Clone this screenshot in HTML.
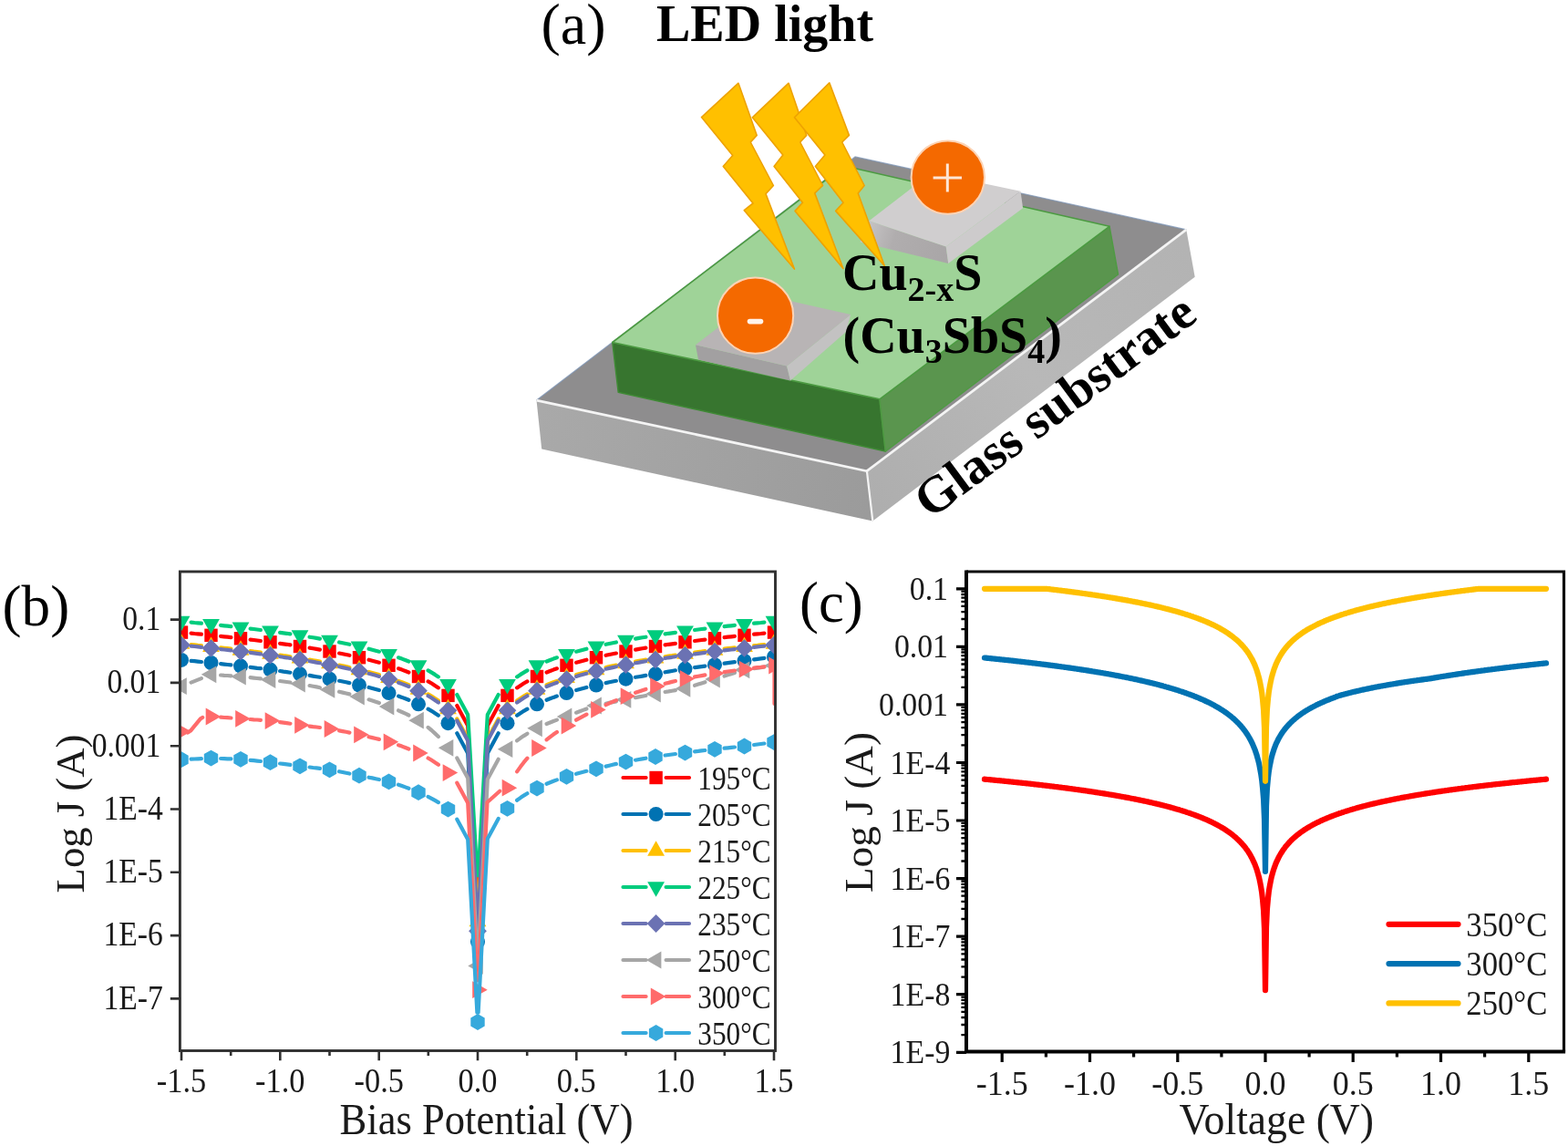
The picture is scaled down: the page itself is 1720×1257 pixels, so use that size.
<!DOCTYPE html>
<html lang="en">
<head>
<meta charset="utf-8">
<title>Figure: LED-illuminated Cu2-xS (Cu3SbS4) device and log J curves</title>
<style>
html,body{margin:0;padding:0;background:#fff;}
body{width:1720px;height:1257px;overflow:hidden;font-family:"Liberation Serif", "DejaVu Serif", serif;}
svg{display:block;}
</style>
</head>
<body>
<svg width="1720" height="1257" viewBox="0 0 1720 1257" role="img" aria-label="Device schematic and log J versus voltage plots">
<defs>
<linearGradient id="gSubL" gradientUnits="userSpaceOnUse" x1="590" y1="465" x2="955" y2="545"><stop offset="0" stop-color="#a9a9a9"/><stop offset="1" stop-color="#9b9b9b"/></linearGradient>
<linearGradient id="gSubR" gradientUnits="userSpaceOnUse" x1="955" y1="545" x2="1306" y2="277"><stop offset="0" stop-color="#aeaeae"/><stop offset="0.5" stop-color="#b8b8b8"/><stop offset="1" stop-color="#b3b3b3"/></linearGradient>
<linearGradient id="gElL" gradientUnits="userSpaceOnUse" x1="950" y1="250" x2="1040" y2="280"><stop offset="0" stop-color="#c6c4c5"/><stop offset="0.35" stop-color="#b0adae"/><stop offset="1" stop-color="#a9a6a7"/></linearGradient>
</defs>
<rect width="1720" height="1257" fill="#fff"/>
<g id="panel-a">
<polygon points="588.5,439.1 938.1,171.9 1301.3,251.9 950.9,516.7" fill="#8e8d8e" />
<polygon points="588.5,439.1 950.9,516.7 957.3,571.5 594.2,492.6" fill="url(#gSubL)" />
<polygon points="950.9,516.7 1301.3,251.9 1310.7,303.7 957.3,571.5" fill="url(#gSubR)" />
<polyline points="588.5,439.1 938.1,171.9 1301.3,251.9" fill="none" stroke="#7b93b4" stroke-width="1.3" opacity="0.75"/>
<polyline points="588.5,439.1 950.9,516.7 1301.3,251.9" fill="none" stroke="#f4f4f4" stroke-width="2.7" stroke-linejoin="round"/>
<line x1="950.9" y1="516.7" x2="957.3" y2="571.5" stroke="#f4f4f4" stroke-width="2.2"/>
<polygon points="671.8,375.5 964.9,437.8 971.3,495.1 678.2,430.2" fill="#37752f" stroke="#3f8a35" stroke-width="1.5" stroke-linejoin="round" />
<polygon points="964.9,437.8 1217.0,248.3 1226.5,301.0 971.3,495.1" fill="#5a954e" stroke="#4f9a43" stroke-width="1.5" stroke-linejoin="round" />
<polygon points="671.8,375.5 926.0,182.0 1217.0,248.3 964.9,437.8" fill="#9fd398" stroke="#4c9a42" stroke-width="1.6" stroke-linejoin="round" />
<polygon points="953.3,242.3 1037.7,270.5 1040.2,289.0 943.5,265.5" fill="url(#gElL)" />
<polygon points="1037.7,270.5 1119.5,209.7 1122.1,228.3 1040.2,289.0" fill="#cdcbcc" />
<polygon points="953.3,242.3 1022.0,189.3 1119.5,209.7 1037.7,270.5" fill="#d0cecf" />
<polygon points="763.0,378.3 863.1,401.5 867.0,417.6 766.0,394.5" fill="#a2a0a1" />
<polygon points="863.1,401.5 933.1,345.0 928.0,364.0 867.0,417.6" fill="#c3c2c2" />
<polygon points="763.0,378.3 835.0,322.9 933.1,345.0 863.1,401.5" fill="#b8b4b5" />
<polygon points="810.0,91.2 769.5,128.6 803.7,170.4 793.3,182.6 826.0,223.0 816.3,230.7 871.4,295.1 840.0,212.6 848.4,203.5 823.3,156.0 830.2,148.4" fill="#ffc000" stroke="#eea200" stroke-width="1.6" stroke-linejoin="round" />
<polygon points="865.1,91.2 825.3,128.8 858.8,170.0 849.1,182.6 880.5,222.3 872.1,231.4 924.9,294.5 893.7,211.9 902.5,203.5 877.7,156.0 884.7,148.4" fill="#ffc000" stroke="#eea200" stroke-width="1.6" stroke-linejoin="round" />
<polygon points="909.8,90.9 871.4,128.8 904.9,170.0 894.4,182.6 925.1,222.3 916.7,231.4 970.2,291.5 941.2,211.9 948.1,203.5 923.7,156.0 931.4,148.4" fill="#ffc000" stroke="#eea200" stroke-width="1.6" stroke-linejoin="round" />
<circle cx="1039.8" cy="194.6" r="40.2" fill="#f46900" stroke="#fcd3b4" stroke-width="2"/>
<path d="M1023.6 195H1055M1039.3 179.6V210.4" stroke="#fde6d6" stroke-width="3" fill="none"/>
<circle cx="828.6" cy="346.2" r="41.6" fill="#f46900" stroke="#fcd3b4" stroke-width="2"/>
<path d="M822.5 352.6H834.5" stroke="#fff3ea" stroke-width="5.6" stroke-linecap="round" fill="none"/>
<text x="593.5" y="47.8" font-family='"Liberation Serif", "DejaVu Serif", serif' font-size="64" fill="#000">(a)</text>
<text x="720" y="44.5" font-family='"Liberation Serif", "DejaVu Serif", serif' font-size="56" font-weight="bold" fill="#000">LED light</text>
<text x="924" y="318" font-family='"Liberation Serif", "DejaVu Serif", serif' font-size="56" font-weight="bold" fill="#000">Cu<tspan font-size="38" font-weight="bold" dy="12">2-x</tspan><tspan dy="-12">S</tspan></text>
<text x="924.5" y="387.2" font-family='"Liberation Serif", "DejaVu Serif", serif' font-size="56" font-weight="bold" fill="#000">(Cu<tspan font-size="38" font-weight="bold" dy="11">3</tspan><tspan dy="-11">SbS</tspan><tspan font-size="38" font-weight="bold" dy="11">4</tspan><tspan dy="-11">)</tspan></text>
<text transform="translate(1020.4,570) rotate(-36.7)" font-family='"Liberation Serif", "DejaVu Serif", serif' font-size="56.4" font-weight="bold" fill="#000">Glass substrate</text>
</g>
<g id="panel-b">
<rect x="198.0" y="627.0" width="652.0" height="525.5" fill="#fff"/>
<clipPath id="clipB"><rect x="198.0" y="627.0" width="653.5" height="525.5"/></clipPath>
<g clip-path="url(#clipB)">
<path d="M209.6 694.6 L213.4 695.0 L217.1 695.3 L220.9 695.7 M242.1 697.9 L245.9 698.3 L249.6 698.7 L253.4 699.1 M274.6 701.6 L278.4 702.0 L282.1 702.5 L285.9 703.0 M307.1 705.8 L310.9 706.3 L314.6 706.8 L318.4 707.4 M339.6 710.6 L343.4 711.3 L347.1 711.9 L350.9 712.6 M372.1 716.5 L375.9 717.2 L379.6 718.0 L383.4 718.8 M404.6 723.7 L408.4 724.7 L412.1 725.7 L415.9 726.7 M437.1 733.3 L440.9 734.6 L444.6 736.0 L448.4 737.5 M469.6 747.4 L473.4 749.5 L477.1 751.9 L480.9 754.4 M501.3 774.0 L513.2 796.0 L523.4 987.9 M524.6 987.9 L534.8 796.0 L546.7 774.0 M567.1 754.4 L570.9 751.9 L574.6 749.5 L578.4 747.4 M599.6 737.5 L603.4 736.0 L607.1 734.6 L610.9 733.3 M632.1 726.7 L635.9 725.7 L639.6 724.7 L643.4 723.7 M664.6 718.8 L668.4 718.0 L672.1 717.2 L675.9 716.5 M697.1 712.6 L700.9 711.9 L704.6 711.3 L708.4 710.6 M729.6 707.4 L733.4 706.8 L737.1 706.3 L740.9 705.8 M762.1 703.0 L765.9 702.5 L769.6 702.0 L773.4 701.6 M794.6 699.1 L798.4 698.7 L802.1 698.3 L805.9 697.9 M827.1 695.7 L830.9 695.3 L834.6 695.0 L838.4 694.6" fill="none" stroke="#ff0000" stroke-width="4.2" stroke-linejoin="round" stroke-linecap="round"/>
<rect x="191.8" y="686.4" width="14.4" height="14.4" fill="#ff0000"/>
<rect x="224.3" y="689.6" width="14.4" height="14.4" fill="#ff0000"/>
<rect x="256.8" y="693.1" width="14.4" height="14.4" fill="#ff0000"/>
<rect x="289.3" y="697.1" width="14.4" height="14.4" fill="#ff0000"/>
<rect x="321.8" y="701.8" width="14.4" height="14.4" fill="#ff0000"/>
<rect x="354.3" y="707.3" width="14.4" height="14.4" fill="#ff0000"/>
<rect x="386.8" y="714.0" width="14.4" height="14.4" fill="#ff0000"/>
<rect x="419.3" y="722.6" width="14.4" height="14.4" fill="#ff0000"/>
<rect x="451.8" y="734.8" width="14.4" height="14.4" fill="#ff0000"/>
<rect x="484.3" y="755.7" width="14.4" height="14.4" fill="#ff0000"/>
<rect x="549.3" y="755.7" width="14.4" height="14.4" fill="#ff0000"/>
<rect x="581.8" y="734.8" width="14.4" height="14.4" fill="#ff0000"/>
<rect x="614.3" y="722.6" width="14.4" height="14.4" fill="#ff0000"/>
<rect x="646.8" y="714.0" width="14.4" height="14.4" fill="#ff0000"/>
<rect x="679.3" y="707.3" width="14.4" height="14.4" fill="#ff0000"/>
<rect x="711.8" y="701.8" width="14.4" height="14.4" fill="#ff0000"/>
<rect x="744.3" y="697.1" width="14.4" height="14.4" fill="#ff0000"/>
<rect x="776.8" y="693.1" width="14.4" height="14.4" fill="#ff0000"/>
<rect x="809.3" y="689.6" width="14.4" height="14.4" fill="#ff0000"/>
<rect x="841.8" y="686.4" width="14.4" height="14.4" fill="#ff0000"/>
<path d="M209.6 724.9 L213.4 725.2 L217.1 725.6 L220.9 726.0 M242.1 728.2 L245.9 728.6 L249.6 729.0 L253.4 729.4 M274.6 731.8 L278.4 732.3 L282.1 732.8 L285.9 733.2 M307.1 736.0 L310.9 736.6 L314.6 737.1 L318.4 737.7 M339.6 740.9 L343.4 741.6 L347.1 742.2 L350.9 742.8 M372.1 746.8 L375.9 747.5 L379.6 748.3 L383.4 749.1 M404.6 754.0 L408.4 755.0 L412.1 756.0 L415.9 757.0 M437.1 763.6 L440.9 764.9 L444.6 766.3 L448.4 767.8 M469.6 777.7 L473.4 779.8 L477.1 782.2 L480.9 784.7 M501.3 804.3 L513.2 826.2 L523.5 1022.5 M524.5 1022.5 L534.8 826.2 L546.7 804.3 M567.1 784.7 L570.9 782.2 L574.6 779.8 L578.4 777.7 M599.6 767.8 L603.4 766.3 L607.1 764.9 L610.9 763.6 M632.1 757.0 L635.9 756.0 L639.6 755.0 L643.4 754.0 M664.6 749.1 L668.4 748.3 L672.1 747.5 L675.9 746.8 M697.1 742.8 L700.9 742.2 L704.6 741.6 L708.4 740.9 M729.6 737.3 L733.4 736.6 L737.1 736.0 L740.9 735.3 M762.1 732.1 L765.9 731.6 L769.6 731.1 L773.4 730.6 M794.6 727.7 L798.4 727.2 L802.1 726.7 L805.9 726.2 M827.1 723.3 L830.9 722.8 L834.6 722.3 L838.4 721.8" fill="none" stroke="#0072b2" stroke-width="4.2" stroke-linejoin="round" stroke-linecap="round"/>
<circle cx="199.0" cy="723.9" r="8.0" fill="#0072b2"/>
<circle cx="231.5" cy="727.0" r="8.0" fill="#0072b2"/>
<circle cx="264.0" cy="730.6" r="8.0" fill="#0072b2"/>
<circle cx="296.5" cy="734.6" r="8.0" fill="#0072b2"/>
<circle cx="329.0" cy="739.3" r="8.0" fill="#0072b2"/>
<circle cx="361.5" cy="744.7" r="8.0" fill="#0072b2"/>
<circle cx="394.0" cy="751.5" r="8.0" fill="#0072b2"/>
<circle cx="426.5" cy="760.1" r="8.0" fill="#0072b2"/>
<circle cx="459.0" cy="772.3" r="8.0" fill="#0072b2"/>
<circle cx="491.5" cy="793.2" r="8.0" fill="#0072b2"/>
<circle cx="524.0" cy="1033.0" r="8.0" fill="#0072b2"/>
<circle cx="556.5" cy="793.2" r="8.0" fill="#0072b2"/>
<circle cx="589.0" cy="772.3" r="8.0" fill="#0072b2"/>
<circle cx="621.5" cy="760.1" r="8.0" fill="#0072b2"/>
<circle cx="654.0" cy="751.5" r="8.0" fill="#0072b2"/>
<circle cx="686.5" cy="744.7" r="8.0" fill="#0072b2"/>
<circle cx="719.0" cy="739.3" r="8.0" fill="#0072b2"/>
<circle cx="751.5" cy="733.6" r="8.0" fill="#0072b2"/>
<circle cx="784.0" cy="729.2" r="8.0" fill="#0072b2"/>
<circle cx="816.5" cy="724.8" r="8.0" fill="#0072b2"/>
<circle cx="849.0" cy="720.4" r="8.0" fill="#0072b2"/>
<path d="M209.6 707.0 L213.4 707.4 L217.1 707.8 L220.9 708.1 M242.1 710.4 L245.9 710.8 L249.6 711.2 L253.4 711.7 M274.6 714.2 L278.4 714.7 L282.1 715.1 L285.9 715.6 M307.1 718.5 L310.9 719.1 L314.6 719.6 L318.4 720.2 M339.6 723.5 L343.4 724.2 L347.1 724.8 L350.9 725.5 M372.1 729.6 L375.9 730.3 L379.6 731.1 L383.4 732.0 M404.6 737.0 L408.4 738.0 L412.1 739.0 L415.9 740.1 M437.1 746.9 L440.9 748.2 L444.6 749.7 L448.4 751.2 M469.6 761.4 L473.4 763.6 L477.1 766.0 L480.9 768.6 M501.3 788.4 L513.2 810.4 L523.4 1000.0 M524.6 1000.0 L534.8 810.4 L546.7 788.4 M567.1 768.6 L570.9 766.0 L574.6 763.6 L578.4 761.4 M599.6 751.2 L603.4 749.7 L607.1 748.2 L610.9 746.9 M632.1 740.1 L635.9 739.0 L639.6 738.0 L643.4 737.0 M664.6 732.0 L668.4 731.1 L672.1 730.3 L675.9 729.6 M697.1 725.5 L700.9 724.8 L704.6 724.2 L708.4 723.5 M729.6 720.2 L733.4 719.6 L737.1 719.1 L740.9 718.5 M762.1 715.6 L765.9 715.1 L769.6 714.7 L773.4 714.2 M794.6 711.7 L798.4 711.2 L802.1 710.8 L805.9 710.4 M827.1 708.1 L830.9 707.8 L834.6 707.4 L838.4 707.0" fill="none" stroke="#ffc000" stroke-width="4.2" stroke-linejoin="round" stroke-linecap="round"/>
<polygon points="199.0,695.3 208.4,711.8 189.6,711.8" fill="#ffc000"/>
<polygon points="231.5,698.5 240.9,715.0 222.1,715.0" fill="#ffc000"/>
<polygon points="264.0,702.2 273.4,718.7 254.6,718.7" fill="#ffc000"/>
<polygon points="296.5,706.3 305.9,722.8 287.1,722.8" fill="#ffc000"/>
<polygon points="329.0,711.1 338.4,727.6 319.6,727.6" fill="#ffc000"/>
<polygon points="361.5,716.8 370.9,733.3 352.1,733.3" fill="#ffc000"/>
<polygon points="394.0,723.7 403.4,740.2 384.6,740.2" fill="#ffc000"/>
<polygon points="426.5,732.6 435.9,749.1 417.1,749.1" fill="#ffc000"/>
<polygon points="459.0,745.2 468.4,761.7 449.6,761.7" fill="#ffc000"/>
<polygon points="491.5,766.7 500.9,783.2 482.1,783.2" fill="#ffc000"/>
<polygon points="524.0,999.8 533.4,1016.3 514.6,1016.3" fill="#ffc000"/>
<polygon points="556.5,766.7 565.9,783.2 547.1,783.2" fill="#ffc000"/>
<polygon points="589.0,745.2 598.4,761.7 579.6,761.7" fill="#ffc000"/>
<polygon points="621.5,732.6 630.9,749.1 612.1,749.1" fill="#ffc000"/>
<polygon points="654.0,723.7 663.4,740.2 644.6,740.2" fill="#ffc000"/>
<polygon points="686.5,716.8 695.9,733.3 677.1,733.3" fill="#ffc000"/>
<polygon points="719.0,711.1 728.4,727.6 709.6,727.6" fill="#ffc000"/>
<polygon points="751.5,706.3 760.9,722.8 742.1,722.8" fill="#ffc000"/>
<polygon points="784.0,702.2 793.4,718.7 774.6,718.7" fill="#ffc000"/>
<polygon points="816.5,698.5 825.9,715.0 807.1,715.0" fill="#ffc000"/>
<polygon points="849.0,695.3 858.4,711.8 839.6,711.8" fill="#ffc000"/>
<path d="M209.6 682.6 L213.4 683.0 L217.1 683.3 L220.9 683.7 M242.1 685.9 L245.9 686.3 L249.6 686.7 L253.4 687.1 M274.6 689.6 L278.4 690.0 L282.1 690.5 L285.9 691.0 M307.1 693.8 L310.9 694.3 L314.6 694.8 L318.4 695.4 M339.6 698.7 L343.4 699.3 L347.1 699.9 L350.9 700.6 M372.1 704.5 L375.9 705.3 L379.6 706.0 L383.4 706.8 M404.6 711.7 L408.4 712.7 L412.1 713.7 L415.9 714.7 M437.1 721.3 L440.9 722.6 L444.6 724.0 L448.4 725.5 M469.6 735.4 L473.4 737.6 L477.1 739.9 L480.9 742.4 M501.3 762.0 L513.2 784.0 L523.4 960.2 M524.6 960.2 L534.8 784.0 L546.7 762.0 M567.1 742.4 L570.9 739.9 L574.6 737.6 L578.4 735.4 M599.6 725.5 L603.4 724.0 L607.1 722.6 L610.9 721.3 M632.1 714.7 L635.9 713.7 L639.6 712.7 L643.4 711.7 M664.6 706.8 L668.4 706.0 L672.1 705.3 L675.9 704.5 M697.1 700.6 L700.9 699.9 L704.6 699.3 L708.4 698.7 M729.6 695.4 L733.4 694.8 L737.1 694.3 L740.9 693.8 M762.1 691.0 L765.9 690.5 L769.6 690.0 L773.4 689.6 M794.6 687.1 L798.4 686.7 L802.1 686.3 L805.9 685.9 M827.1 683.7 L830.9 683.3 L834.6 683.0 L838.4 682.6" fill="none" stroke="#00cc7d" stroke-width="4.2" stroke-linejoin="round" stroke-linecap="round"/>
<polygon points="199.0,692.3 208.4,675.8 189.6,675.8" fill="#00cc7d"/>
<polygon points="231.5,695.5 240.9,679.0 222.1,679.0" fill="#00cc7d"/>
<polygon points="264.0,699.0 273.4,682.5 254.6,682.5" fill="#00cc7d"/>
<polygon points="296.5,703.0 305.9,686.5 287.1,686.5" fill="#00cc7d"/>
<polygon points="329.0,707.7 338.4,691.2 319.6,691.2" fill="#00cc7d"/>
<polygon points="361.5,713.2 370.9,696.7 352.1,696.7" fill="#00cc7d"/>
<polygon points="394.0,719.9 403.4,703.4 384.6,703.4" fill="#00cc7d"/>
<polygon points="426.5,728.5 435.9,712.0 417.1,712.0" fill="#00cc7d"/>
<polygon points="459.0,740.7 468.4,724.2 449.6,724.2" fill="#00cc7d"/>
<polygon points="491.5,761.6 500.9,745.1 482.1,745.1" fill="#00cc7d"/>
<polygon points="556.5,761.6 565.9,745.1 547.1,745.1" fill="#00cc7d"/>
<polygon points="589.0,740.7 598.4,724.2 579.6,724.2" fill="#00cc7d"/>
<polygon points="621.5,728.5 630.9,712.0 612.1,712.0" fill="#00cc7d"/>
<polygon points="654.0,719.9 663.4,703.4 644.6,703.4" fill="#00cc7d"/>
<polygon points="686.5,713.2 695.9,696.7 677.1,696.7" fill="#00cc7d"/>
<polygon points="719.0,707.7 728.4,691.2 709.6,691.2" fill="#00cc7d"/>
<polygon points="751.5,703.0 760.9,686.5 742.1,686.5" fill="#00cc7d"/>
<polygon points="784.0,699.0 793.4,682.5 774.6,682.5" fill="#00cc7d"/>
<polygon points="816.5,695.5 825.9,679.0 807.1,679.0" fill="#00cc7d"/>
<polygon points="849.0,692.3 858.4,675.8 839.6,675.8" fill="#00cc7d"/>
<path d="M209.6 708.7 L213.4 709.0 L217.1 709.4 L220.9 709.8 M242.1 712.1 L245.9 712.5 L249.6 712.9 L253.4 713.3 M274.6 715.9 L278.4 716.3 L282.1 716.8 L285.9 717.3 M307.1 720.2 L310.9 720.8 L314.6 721.3 L318.4 721.9 M339.6 725.3 L343.4 725.9 L347.1 726.6 L350.9 727.2 M372.1 731.3 L375.9 732.1 L379.6 732.9 L383.4 733.7 M404.6 738.8 L408.4 739.8 L412.1 740.8 L415.9 741.9 M437.1 748.7 L440.9 750.1 L444.6 751.5 L448.4 753.0 M469.6 763.3 L473.4 765.5 L477.1 767.9 L480.9 770.5 M501.3 790.4 L513.2 812.4 L523.5 1010.8 M524.5 1010.8 L534.8 812.4 L546.7 790.4 M567.1 770.5 L570.9 767.9 L574.6 765.5 L578.4 763.3 M599.6 753.0 L603.4 751.5 L607.1 750.1 L610.9 748.7 M632.1 741.9 L635.9 740.8 L639.6 739.8 L643.4 738.8 M664.6 733.7 L668.4 732.9 L672.1 732.1 L675.9 731.3 M697.1 727.2 L700.9 726.6 L704.6 725.9 L708.4 725.3 M729.6 721.9 L733.4 721.3 L737.1 720.8 L740.9 720.2 M762.1 717.3 L765.9 716.8 L769.6 716.3 L773.4 715.9 M794.6 713.3 L798.4 712.9 L802.1 712.5 L805.9 712.1 M827.1 709.8 L830.9 709.4 L834.6 709.0 L838.4 708.7" fill="none" stroke="#6b72b3" stroke-width="4.2" stroke-linejoin="round" stroke-linecap="round"/>
<polygon points="199.0,697.7 208.9,707.6 199.0,717.5 189.1,707.6" fill="#6b72b3"/>
<polygon points="231.5,701.0 241.4,710.9 231.5,720.8 221.6,710.9" fill="#6b72b3"/>
<polygon points="264.0,704.7 273.9,714.6 264.0,724.5 254.1,714.6" fill="#6b72b3"/>
<polygon points="296.5,708.8 306.4,718.7 296.5,728.6 286.6,718.7" fill="#6b72b3"/>
<polygon points="329.0,713.6 338.9,723.5 329.0,733.4 319.1,723.5" fill="#6b72b3"/>
<polygon points="361.5,719.3 371.4,729.2 361.5,739.1 351.6,729.2" fill="#6b72b3"/>
<polygon points="394.0,726.2 403.9,736.1 394.0,746.0 384.1,736.1" fill="#6b72b3"/>
<polygon points="426.5,735.2 436.4,745.1 426.5,755.0 416.6,745.1" fill="#6b72b3"/>
<polygon points="459.0,747.8 468.9,757.7 459.0,767.6 449.1,757.7" fill="#6b72b3"/>
<polygon points="491.5,769.4 501.4,779.3 491.5,789.2 481.6,779.3" fill="#6b72b3"/>
<polygon points="524.0,1011.3 533.9,1021.2 524.0,1031.1 514.1,1021.2" fill="#6b72b3"/>
<polygon points="556.5,769.4 566.4,779.3 556.5,789.2 546.6,779.3" fill="#6b72b3"/>
<polygon points="589.0,747.8 598.9,757.7 589.0,767.6 579.1,757.7" fill="#6b72b3"/>
<polygon points="621.5,735.2 631.4,745.1 621.5,755.0 611.6,745.1" fill="#6b72b3"/>
<polygon points="654.0,726.2 663.9,736.1 654.0,746.0 644.1,736.1" fill="#6b72b3"/>
<polygon points="686.5,719.3 696.4,729.2 686.5,739.1 676.6,729.2" fill="#6b72b3"/>
<polygon points="719.0,713.6 728.9,723.5 719.0,733.4 709.1,723.5" fill="#6b72b3"/>
<polygon points="751.5,708.8 761.4,718.7 751.5,728.6 741.6,718.7" fill="#6b72b3"/>
<polygon points="784.0,704.7 793.9,714.6 784.0,724.5 774.1,714.6" fill="#6b72b3"/>
<polygon points="816.5,701.0 826.4,710.9 816.5,720.8 806.6,710.9" fill="#6b72b3"/>
<polygon points="849.0,697.7 858.9,707.6 849.0,717.5 839.1,707.6" fill="#6b72b3"/>
<path d="M209.6 748.6 L213.4 747.1 L217.1 745.6 L220.9 744.1 M242.1 740.5 L245.9 740.8 L249.6 741.0 L253.4 741.3 M274.6 743.2 L278.4 743.6 L282.1 744.0 L285.9 744.4 M307.1 747.0 L310.9 747.5 L314.6 748.0 L318.4 748.5 M339.6 752.0 L343.4 752.7 L347.1 753.4 L350.9 754.2 M372.1 758.7 L375.9 759.6 L379.6 760.5 L383.4 761.4 M404.6 767.3 L408.4 768.5 L412.1 769.8 L415.9 771.1 M437.1 779.3 L440.9 781.0 L444.6 782.7 L448.4 784.5 M469.6 797.9 L473.4 801.0 L477.1 804.4 L480.9 808.0 M501.3 831.4 L513.2 853.4 L523.4 1048.9 M524.6 1048.9 L534.8 854.8 L546.7 832.8 M567.1 812.4 L570.9 809.6 L574.6 807.1 L578.4 804.7 M599.6 794.0 L603.4 792.5 L607.1 791.0 L610.9 789.6 M632.1 781.7 L635.9 780.3 L639.6 778.9 L643.4 777.5 M664.6 771.7 L668.4 770.9 L672.1 770.1 L675.9 769.4 M697.1 765.2 L700.9 764.4 L704.6 763.7 L708.4 763.0 M729.6 759.0 L733.4 758.4 L737.1 757.7 L740.9 757.1 M762.1 751.8 L765.9 750.6 L769.6 749.4 L773.4 748.2 M794.6 741.5 L798.4 740.3 L802.1 739.2 L805.9 738.0 M827.1 733.2 L830.9 732.6 L834.6 732.1 L838.4 731.5" fill="none" stroke="#a6a6a6" stroke-width="4.2" stroke-linejoin="round" stroke-linecap="round"/>
<polygon points="188.3,752.6 204.8,743.2 204.8,762.0" fill="#a6a6a6"/>
<polygon points="220.8,739.8 237.3,730.4 237.3,749.2" fill="#a6a6a6"/>
<polygon points="253.3,742.1 269.8,732.7 269.8,751.5" fill="#a6a6a6"/>
<polygon points="285.8,745.6 302.3,736.2 302.3,755.0" fill="#a6a6a6"/>
<polygon points="318.3,750.0 334.8,740.6 334.8,759.4" fill="#a6a6a6"/>
<polygon points="350.8,756.4 367.3,747.0 367.3,765.8" fill="#a6a6a6"/>
<polygon points="383.3,764.1 399.8,754.7 399.8,773.5" fill="#a6a6a6"/>
<polygon points="415.8,775.0 432.3,765.6 432.3,784.4" fill="#a6a6a6"/>
<polygon points="448.3,790.2 464.8,780.8 464.8,799.6" fill="#a6a6a6"/>
<polygon points="480.8,820.3 497.3,810.9 497.3,829.7" fill="#a6a6a6"/>
<polygon points="513.3,1059.4 529.8,1050.0 529.8,1068.8" fill="#a6a6a6"/>
<polygon points="545.8,821.7 562.3,812.3 562.3,831.1" fill="#a6a6a6"/>
<polygon points="578.3,798.8 594.8,789.4 594.8,808.2" fill="#a6a6a6"/>
<polygon points="610.8,786.0 627.3,776.6 627.3,795.4" fill="#a6a6a6"/>
<polygon points="643.3,774.0 659.8,764.6 659.8,783.4" fill="#a6a6a6"/>
<polygon points="675.8,767.4 692.3,758.0 692.3,776.8" fill="#a6a6a6"/>
<polygon points="708.3,761.0 724.8,751.6 724.8,770.4" fill="#a6a6a6"/>
<polygon points="740.8,755.3 757.3,745.9 757.3,764.7" fill="#a6a6a6"/>
<polygon points="773.3,745.0 789.8,735.6 789.8,754.4" fill="#a6a6a6"/>
<polygon points="805.8,734.8 822.3,725.4 822.3,744.2" fill="#a6a6a6"/>
<polygon points="838.3,730.0 854.8,720.6 854.8,739.4" fill="#a6a6a6"/>
<path d="M206.0 803.6 L209.0 801.6 L219.7 788.6 L222.2 786.9 M242.1 786.7 L245.9 787.0 L249.6 787.2 L253.4 787.5 M274.6 789.0 L278.4 789.3 L282.1 789.5 L285.9 789.8 M307.1 792.1 L310.9 792.6 L314.6 793.1 L318.4 793.7 M339.6 796.6 L343.4 797.1 L347.1 797.5 L350.9 798.0 M372.1 801.4 L375.9 802.1 L379.6 802.8 L383.4 803.6 M404.6 808.2 L408.4 809.1 L412.1 810.0 L415.9 810.9 M437.1 817.3 L440.9 818.6 L444.6 820.0 L448.4 821.5 M469.6 831.5 L473.4 833.8 L477.1 836.2 L480.9 838.8 M501.3 858.7 L513.2 880.7 L523.4 1075.2 M524.5 1075.2 L534.5 880.0 L548.2 867.7 M567.1 846.4 L570.9 841.1 L574.6 836.2 L578.4 831.7 M599.6 811.4 L603.4 808.4 L607.1 805.6 L610.9 803.0 M632.1 789.7 L635.9 787.6 L639.6 785.6 L643.4 783.6 M664.6 773.2 L668.4 771.4 L672.1 769.7 L675.9 768.1 M697.1 759.8 L700.9 758.5 L704.6 757.3 L708.4 756.0 M729.6 749.8 L733.4 748.9 L737.1 747.9 L740.9 747.0 M762.1 742.4 L765.9 741.7 L769.6 741.1 L773.4 740.4 M794.6 737.1 L798.4 736.5 L802.1 736.0 L805.9 735.5 M827.1 732.7 L830.9 732.2 L834.6 731.8 L838.4 731.3 M849.5 730.2 L849.5 772.0" fill="none" stroke="#ff6b6b" stroke-width="4.2" stroke-linejoin="round" stroke-linecap="round"/>
<polygon points="209.7,802.3 193.2,792.9 193.2,811.7" fill="#ff6b6b"/>
<polygon points="242.2,786.0 225.7,776.6 225.7,795.4" fill="#ff6b6b"/>
<polygon points="274.7,788.3 258.2,778.9 258.2,797.7" fill="#ff6b6b"/>
<polygon points="307.2,790.6 290.7,781.2 290.7,800.0" fill="#ff6b6b"/>
<polygon points="339.7,795.3 323.2,785.9 323.2,804.7" fill="#ff6b6b"/>
<polygon points="372.2,799.5 355.7,790.1 355.7,808.9" fill="#ff6b6b"/>
<polygon points="404.7,805.8 388.2,796.4 388.2,815.2" fill="#ff6b6b"/>
<polygon points="437.2,813.8 420.7,804.4 420.7,823.2" fill="#ff6b6b"/>
<polygon points="469.7,826.0 453.2,816.6 453.2,835.4" fill="#ff6b6b"/>
<polygon points="502.2,847.6 485.7,838.2 485.7,857.0" fill="#ff6b6b"/>
<polygon points="534.7,1085.7 518.2,1076.3 518.2,1095.1" fill="#ff6b6b"/>
<polygon points="567.2,864.2 550.7,854.8 550.7,873.6" fill="#ff6b6b"/>
<polygon points="599.7,820.5 583.2,811.1 583.2,829.9" fill="#ff6b6b"/>
<polygon points="632.2,796.0 615.7,786.6 615.7,805.4" fill="#ff6b6b"/>
<polygon points="664.7,778.4 648.2,769.0 648.2,787.8" fill="#ff6b6b"/>
<polygon points="697.2,763.6 680.7,754.2 680.7,773.0" fill="#ff6b6b"/>
<polygon points="729.7,752.7 713.2,743.3 713.2,762.1" fill="#ff6b6b"/>
<polygon points="762.2,744.4 745.7,735.0 745.7,753.8" fill="#ff6b6b"/>
<polygon points="794.7,738.6 778.2,729.2 778.2,748.0" fill="#ff6b6b"/>
<polygon points="827.2,734.1 810.7,724.7 810.7,743.5" fill="#ff6b6b"/>
<polygon points="859.7,730.0 843.2,720.6 843.2,739.4" fill="#ff6b6b"/>
<path d="M209.6 832.7 L213.4 832.5 L217.1 832.3 L220.9 832.1 M242.1 832.0 L245.9 832.1 L249.6 832.3 L253.4 832.4 M274.6 833.9 L278.4 834.2 L282.1 834.6 L285.9 835.0 M307.1 837.5 L310.9 837.9 L314.6 838.4 L318.4 838.9 M339.6 841.5 L343.4 842.0 L347.1 842.4 L350.9 842.9 M372.1 846.2 L375.9 847.0 L379.6 847.7 L383.4 848.5 M404.6 852.7 L408.4 853.4 L412.1 854.2 L415.9 855.0 M437.1 860.7 L440.9 862.0 L444.6 863.4 L448.4 864.8 M469.6 873.9 L473.4 875.8 L477.1 877.9 L480.9 880.1 M501.3 898.7 L513.2 920.7 L523.4 1110.6 M524.6 1110.6 L534.8 919.9 L546.7 897.9 M567.1 877.8 L570.9 875.1 L574.6 872.6 L578.4 870.3 M599.6 859.8 L603.4 858.3 L607.1 856.8 L610.9 855.4 M632.1 848.8 L635.9 847.7 L639.6 846.8 L643.4 845.8 M664.6 840.6 L668.4 839.7 L672.1 838.8 L675.9 837.9 M697.1 833.7 L700.9 833.0 L704.6 832.4 L708.4 831.7 M729.6 828.5 L733.4 828.0 L737.1 827.5 L740.9 827.0 M762.1 824.3 L765.9 823.9 L769.6 823.4 L773.4 823.0 M794.6 820.7 L798.4 820.3 L802.1 819.9 L805.9 819.5 M827.1 817.0 L830.9 816.5 L834.6 816.0 L838.4 815.5" fill="none" stroke="#36a9dc" stroke-width="4.2" stroke-linejoin="round" stroke-linecap="round"/>
<polygon points="199.0,824.3 206.7,828.8 206.7,837.7 199.0,842.1 191.3,837.7 191.3,828.8" fill="#36a9dc"/>
<polygon points="231.5,822.7 239.2,827.1 239.2,836.1 231.5,840.5 223.8,836.1 223.8,827.1" fill="#36a9dc"/>
<polygon points="264.0,823.9 271.7,828.3 271.7,837.2 264.0,841.7 256.3,837.2 256.3,828.3" fill="#36a9dc"/>
<polygon points="296.5,827.3 304.2,831.8 304.2,840.7 296.5,845.1 288.8,840.7 288.8,831.8" fill="#36a9dc"/>
<polygon points="329.0,831.4 336.7,835.8 336.7,844.8 329.0,849.2 321.3,844.8 321.3,835.8" fill="#36a9dc"/>
<polygon points="361.5,835.4 369.2,839.8 369.2,848.8 361.5,853.2 353.8,848.8 353.8,839.8" fill="#36a9dc"/>
<polygon points="394.0,841.8 401.7,846.2 401.7,855.2 394.0,859.6 386.3,855.2 386.3,846.2" fill="#36a9dc"/>
<polygon points="426.5,848.5 434.2,852.9 434.2,861.9 426.5,866.3 418.8,861.9 418.8,852.9" fill="#36a9dc"/>
<polygon points="459.0,860.3 466.7,864.8 466.7,873.7 459.0,878.1 451.3,873.7 451.3,864.8" fill="#36a9dc"/>
<polygon points="491.5,878.7 499.2,883.1 499.2,892.1 491.5,896.5 483.8,892.1 483.8,883.1" fill="#36a9dc"/>
<polygon points="524.0,1112.1 531.7,1116.6 531.7,1125.5 524.0,1129.9 516.3,1125.5 516.3,1116.6" fill="#36a9dc"/>
<polygon points="556.5,877.9 564.2,882.3 564.2,891.2 556.5,895.7 548.8,891.2 548.8,882.3" fill="#36a9dc"/>
<polygon points="589.0,855.7 596.7,860.1 596.7,869.1 589.0,873.5 581.3,869.1 581.3,860.1" fill="#36a9dc"/>
<polygon points="621.5,842.9 629.2,847.3 629.2,856.2 621.5,860.7 613.8,856.2 613.8,847.3" fill="#36a9dc"/>
<polygon points="654.0,834.4 661.7,838.8 661.7,847.8 654.0,852.2 646.3,847.8 646.3,838.8" fill="#36a9dc"/>
<polygon points="686.5,826.7 694.2,831.1 694.2,840.1 686.5,844.5 678.8,840.1 678.8,831.1" fill="#36a9dc"/>
<polygon points="719.0,821.1 726.7,825.5 726.7,834.5 719.0,838.9 711.3,834.5 711.3,825.5" fill="#36a9dc"/>
<polygon points="751.5,816.7 759.2,821.1 759.2,830.1 751.5,834.5 743.8,830.1 743.8,821.1" fill="#36a9dc"/>
<polygon points="784.0,812.9 791.7,817.3 791.7,826.2 784.0,830.7 776.3,826.2 776.3,817.3" fill="#36a9dc"/>
<polygon points="816.5,809.6 824.2,814.0 824.2,823.0 816.5,827.4 808.8,823.0 808.8,814.0" fill="#36a9dc"/>
<polygon points="849.0,805.2 856.7,809.6 856.7,818.6 849.0,823.0 841.3,818.6 841.3,809.6" fill="#36a9dc"/>
</g>
<rect x="197.4" y="627.0" width="653.1" height="525.5" fill="none" stroke="#303030" stroke-width="2.9"/>
<path d="M199.0 1152.5V1163.3 M307.3 1152.5V1163.3 M415.7 1152.5V1163.3 M524.0 1152.5V1163.3 M632.3 1152.5V1163.3 M740.7 1152.5V1163.3 M849.0 1152.5V1163.3 M253.2 1152.5V1158.1 M361.5 1152.5V1158.1 M469.8 1152.5V1158.1 M578.2 1152.5V1158.1 M686.5 1152.5V1158.1 M794.8 1152.5V1158.1 M198.0 679.6H186.8 M198.0 748.9H186.8 M198.0 818.2H186.8 M198.0 887.5H186.8 M198.0 956.8H186.8 M198.0 1026.1H186.8 M198.0 1095.4H186.8 " stroke="#303030" stroke-width="2.6" fill="none"/>
<text transform="translate(199.0,1198.0) scale(1.0,1.125)" text-anchor="middle" font-family='"Liberation Serif", "DejaVu Serif", serif' font-size="34.4" fill="#1a1a1a">-1.5</text>
<text transform="translate(307.3,1198.0) scale(1.0,1.125)" text-anchor="middle" font-family='"Liberation Serif", "DejaVu Serif", serif' font-size="34.4" fill="#1a1a1a">-1.0</text>
<text transform="translate(415.7,1198.0) scale(1.0,1.125)" text-anchor="middle" font-family='"Liberation Serif", "DejaVu Serif", serif' font-size="34.4" fill="#1a1a1a">-0.5</text>
<text transform="translate(524.0,1198.0) scale(1.0,1.125)" text-anchor="middle" font-family='"Liberation Serif", "DejaVu Serif", serif' font-size="34.4" fill="#1a1a1a">0.0</text>
<text transform="translate(632.3,1198.0) scale(1.0,1.125)" text-anchor="middle" font-family='"Liberation Serif", "DejaVu Serif", serif' font-size="34.4" fill="#1a1a1a">0.5</text>
<text transform="translate(740.7,1198.0) scale(1.0,1.125)" text-anchor="middle" font-family='"Liberation Serif", "DejaVu Serif", serif' font-size="34.4" fill="#1a1a1a">1.0</text>
<text transform="translate(849.0,1198.0) scale(1.0,1.125)" text-anchor="middle" font-family='"Liberation Serif", "DejaVu Serif", serif' font-size="34.4" fill="#1a1a1a">1.5</text>
<text transform="translate(176.2,690.9) scale(1.0,1.15)" text-anchor="end" font-family='"Liberation Serif", "DejaVu Serif", serif' font-size="33.6" fill="#1a1a1a">0.1</text>
<text transform="translate(176.2,760.2) scale(1.0,1.15)" text-anchor="end" font-family='"Liberation Serif", "DejaVu Serif", serif' font-size="33.6" fill="#1a1a1a">0.01</text>
<text transform="translate(176.2,829.5) scale(1.0,1.15)" text-anchor="end" font-family='"Liberation Serif", "DejaVu Serif", serif' font-size="33.6" fill="#1a1a1a">0.001</text>
<text transform="translate(178.8,898.8) scale(1.0,1.13)" text-anchor="end" font-family='"Liberation Serif", "DejaVu Serif", serif' font-size="33.6" fill="#1a1a1a">1E-4</text>
<text transform="translate(178.8,968.1) scale(1.0,1.13)" text-anchor="end" font-family='"Liberation Serif", "DejaVu Serif", serif' font-size="33.6" fill="#1a1a1a">1E-5</text>
<text transform="translate(178.8,1037.4) scale(1.0,1.13)" text-anchor="end" font-family='"Liberation Serif", "DejaVu Serif", serif' font-size="33.6" fill="#1a1a1a">1E-6</text>
<text transform="translate(178.8,1106.7) scale(1.0,1.13)" text-anchor="end" font-family='"Liberation Serif", "DejaVu Serif", serif' font-size="33.6" fill="#1a1a1a">1E-7</text>
<text transform="translate(533.5,1244.2) scale(1.0,1.065)" text-anchor="middle" font-family='"Liberation Serif", "DejaVu Serif", serif' font-size="44.6" fill="#1a1a1a">Bias Potential (V)</text>
<text transform="translate(91.7,892.5) rotate(-90)" text-anchor="middle" font-family='"Liberation Serif", "DejaVu Serif", serif' font-size="44.7" fill="#1a1a1a">Log J (A)</text>
<text x="2.5" y="685.5" font-family='"Liberation Serif", "DejaVu Serif", serif' font-size="63.2" fill="#000">(b)</text>
<path d="M683.5 853H708.6 M730.6 853H756.0" stroke="#ff0000" stroke-width="4.2" stroke-linecap="round" fill="none"/>
<rect x="712.4" y="845.8" width="14.4" height="14.4" fill="#ff0000"/>
<text transform="translate(765.3,866.2) scale(1.0,1.12)" text-anchor="start" font-family='"Liberation Serif", "DejaVu Serif", serif' font-size="31.3" fill="#1a1a1a">195°C</text>
<path d="M683.5 893H708.6 M730.6 893H756.0" stroke="#0072b2" stroke-width="4.2" stroke-linecap="round" fill="none"/>
<circle cx="719.6" cy="893.0" r="8.0" fill="#0072b2"/>
<text transform="translate(765.3,906.2) scale(1.0,1.12)" text-anchor="start" font-family='"Liberation Serif", "DejaVu Serif", serif' font-size="31.3" fill="#1a1a1a">205°C</text>
<path d="M683.5 933H708.6 M730.6 933H756.0" stroke="#ffc000" stroke-width="4.2" stroke-linecap="round" fill="none"/>
<polygon points="719.6,922.3 729.0,938.8 710.2,938.8" fill="#ffc000"/>
<text transform="translate(765.3,946.2) scale(1.0,1.12)" text-anchor="start" font-family='"Liberation Serif", "DejaVu Serif", serif' font-size="31.3" fill="#1a1a1a">215°C</text>
<path d="M683.5 973H708.6 M730.6 973H756.0" stroke="#00cc7d" stroke-width="4.2" stroke-linecap="round" fill="none"/>
<polygon points="719.6,983.7 729.0,967.2 710.2,967.2" fill="#00cc7d"/>
<text transform="translate(765.3,986.2) scale(1.0,1.12)" text-anchor="start" font-family='"Liberation Serif", "DejaVu Serif", serif' font-size="31.3" fill="#1a1a1a">225°C</text>
<path d="M683.5 1013H708.6 M730.6 1013H756.0" stroke="#6b72b3" stroke-width="4.2" stroke-linecap="round" fill="none"/>
<polygon points="719.6,1003.1 729.5,1013.0 719.6,1022.9 709.7,1013.0" fill="#6b72b3"/>
<text transform="translate(765.3,1026.2) scale(1.0,1.12)" text-anchor="start" font-family='"Liberation Serif", "DejaVu Serif", serif' font-size="31.3" fill="#1a1a1a">235°C</text>
<path d="M683.5 1053H708.6 M730.6 1053H756.0" stroke="#a6a6a6" stroke-width="4.2" stroke-linecap="round" fill="none"/>
<polygon points="708.9,1053.0 725.4,1043.6 725.4,1062.4" fill="#a6a6a6"/>
<text transform="translate(765.3,1066.2) scale(1.0,1.12)" text-anchor="start" font-family='"Liberation Serif", "DejaVu Serif", serif' font-size="31.3" fill="#1a1a1a">250°C</text>
<path d="M683.5 1093H708.6 M730.6 1093H756.0" stroke="#ff6b6b" stroke-width="4.2" stroke-linecap="round" fill="none"/>
<polygon points="730.3,1093.0 713.8,1083.6 713.8,1102.4" fill="#ff6b6b"/>
<text transform="translate(765.3,1106.2) scale(1.0,1.12)" text-anchor="start" font-family='"Liberation Serif", "DejaVu Serif", serif' font-size="31.3" fill="#1a1a1a">300°C</text>
<path d="M683.5 1133H708.6 M730.6 1133H756.0" stroke="#36a9dc" stroke-width="4.2" stroke-linecap="round" fill="none"/>
<polygon points="719.6,1124.1 727.3,1128.5 727.3,1137.5 719.6,1141.9 711.9,1137.5 711.9,1128.5" fill="#36a9dc"/>
<text transform="translate(765.3,1146.2) scale(1.0,1.12)" text-anchor="start" font-family='"Liberation Serif", "DejaVu Serif", serif' font-size="31.3" fill="#1a1a1a">350°C</text>
</g>
<g id="panel-c">
<rect x="1060.0" y="627.0" width="655.5" height="526.5999999999999" fill="#fff"/>
<path d="M1080.0 854.7 L1081.0 854.8 L1081.9 854.9 L1082.9 855.0 L1083.8 855.0 L1084.8 855.1 L1085.8 855.2 L1086.7 855.3 L1087.7 855.4 L1088.7 855.5 L1089.6 855.6 L1090.6 855.7 L1091.5 855.8 L1092.5 855.9 L1093.5 856.0 L1094.4 856.1 L1095.4 856.1 L1096.4 856.2 L1097.3 856.3 L1098.3 856.4 L1099.2 856.5 L1100.2 856.6 L1101.2 856.7 L1102.1 856.8 L1103.1 856.9 L1104.1 857.0 L1105.0 857.1 L1106.0 857.2 L1107.0 857.3 L1107.9 857.4 L1108.9 857.5 L1109.8 857.6 L1110.8 857.7 L1111.8 857.8 L1112.7 857.9 L1113.7 858.0 L1114.7 858.1 L1115.6 858.2 L1116.6 858.3 L1117.5 858.4 L1118.5 858.5 L1119.5 858.6 L1120.4 858.7 L1121.4 858.8 L1122.3 858.9 L1123.3 859.0 L1124.3 859.1 L1125.2 859.2 L1126.2 859.3 L1127.2 859.4 L1128.1 859.5 L1129.1 859.6 L1130.0 859.7 L1131.0 859.8 L1132.0 859.9 L1132.9 860.0 L1133.9 860.2 L1134.9 860.3 L1135.8 860.4 L1136.8 860.5 L1137.8 860.6 L1138.7 860.7 L1139.7 860.8 L1140.6 860.9 L1141.6 861.0 L1142.6 861.1 L1143.5 861.3 L1144.5 861.4 L1145.5 861.5 L1146.4 861.6 L1147.4 861.7 L1148.3 861.8 L1149.3 861.9 L1150.3 862.0 L1151.2 862.2 L1152.2 862.3 L1153.1 862.4 L1154.1 862.5 L1155.1 862.6 L1156.0 862.7 L1157.0 862.9 L1158.0 863.0 L1158.9 863.1 L1159.9 863.2 L1160.8 863.3 L1161.8 863.5 L1162.8 863.6 L1163.7 863.7 L1164.7 863.8 L1165.7 864.0 L1166.6 864.1 L1167.6 864.2 L1168.5 864.3 L1169.5 864.4 L1170.5 864.6 L1171.4 864.7 L1172.4 864.8 L1173.4 865.0 L1174.3 865.1 L1175.3 865.2 L1176.2 865.3 L1177.2 865.5 L1178.2 865.6 L1179.1 865.7 L1180.1 865.9 L1181.1 866.0 L1182.0 866.1 L1183.0 866.3 L1184.0 866.4 L1184.9 866.5 L1185.9 866.7 L1186.8 866.8 L1187.8 866.9 L1188.8 867.1 L1189.7 867.2 L1190.7 867.3 L1191.7 867.5 L1192.6 867.6 L1193.6 867.8 L1194.5 867.9 L1195.5 868.1 L1196.5 868.2 L1197.4 868.3 L1198.4 868.5 L1199.3 868.6 L1200.3 868.8 L1201.3 868.9 L1202.2 869.1 L1203.2 869.2 L1204.2 869.4 L1205.1 869.5 L1206.1 869.7 L1207.0 869.8 L1208.0 870.0 L1209.0 870.1 L1209.9 870.3 L1210.9 870.4 L1211.9 870.6 L1212.8 870.7 L1213.8 870.9 L1214.8 871.0 L1215.7 871.2 L1216.7 871.4 L1217.6 871.5 L1218.6 871.7 L1219.6 871.8 L1220.5 872.0 L1221.5 872.2 L1222.5 872.3 L1223.4 872.5 L1224.4 872.7 L1225.3 872.8 L1226.3 873.0 L1227.3 873.2 L1228.2 873.3 L1229.2 873.5 L1230.2 873.7 L1231.1 873.9 L1232.1 874.0 L1233.0 874.2 L1234.0 874.4 L1235.0 874.6 L1235.9 874.8 L1236.9 874.9 L1237.8 875.1 L1238.8 875.3 L1239.8 875.5 L1240.7 875.7 L1241.7 875.9 L1242.7 876.0 L1243.6 876.2 L1244.6 876.4 L1245.5 876.6 L1246.5 876.8 L1247.5 877.0 L1248.4 877.2 L1249.4 877.4 L1250.4 877.6 L1251.3 877.8 L1252.3 878.0 L1253.2 878.2 L1254.2 878.4 L1255.2 878.6 L1256.1 878.8 L1257.1 879.0 L1258.1 879.2 L1259.0 879.4 L1260.0 879.6 L1261.0 879.9 L1261.9 880.1 L1262.9 880.3 L1263.8 880.5 L1264.8 880.7 L1265.8 881.0 L1266.7 881.2 L1267.7 881.4 L1268.7 881.6 L1269.6 881.9 L1270.6 882.1 L1271.5 882.3 L1272.5 882.6 L1273.5 882.8 L1274.4 883.1 L1275.4 883.3 L1276.3 883.5 L1277.3 883.8 L1278.3 884.0 L1279.2 884.3 L1280.2 884.5 L1281.2 884.8 L1282.1 885.0 L1283.1 885.3 L1284.0 885.6 L1285.0 885.8 L1286.0 886.1 L1286.9 886.4 L1287.9 886.6 L1288.9 886.9 L1289.8 887.2 L1290.8 887.5 L1291.8 887.8 L1292.7 888.0 L1293.7 888.3 L1294.6 888.6 L1295.6 888.9 L1296.6 889.2 L1297.5 889.5 L1298.5 889.8 L1299.5 890.1 L1300.4 890.4 L1301.4 890.8 L1302.3 891.1 L1303.3 891.4 L1304.3 891.7 L1305.2 892.0 L1306.2 892.4 L1307.2 892.7 L1308.1 893.1 L1309.1 893.4 L1310.0 893.7 L1311.0 894.1 L1312.0 894.5 L1312.9 894.8 L1313.9 895.2 L1314.8 895.6 L1315.8 895.9 L1316.8 896.3 L1317.7 896.7 L1318.7 897.1 L1319.7 897.5 L1320.6 897.9 L1321.6 898.3 L1322.5 898.7 L1323.5 899.1 L1324.5 899.6 L1325.4 900.0 L1326.4 900.4 L1327.4 900.9 L1328.3 901.3 L1329.3 901.8 L1330.2 902.3 L1331.2 902.8 L1332.2 903.2 L1333.1 903.7 L1334.1 904.2 L1335.1 904.8 L1336.0 905.3 L1337.0 905.8 L1338.0 906.4 L1338.9 906.9 L1339.9 907.5 L1340.8 908.0 L1341.8 908.6 L1342.8 909.2 L1343.7 909.8 L1344.7 910.5 L1345.7 911.1 L1346.6 911.8 L1347.6 912.4 L1348.5 913.1 L1349.5 913.8 L1350.5 914.5 L1351.4 915.3 L1352.4 916.0 L1353.3 916.8 L1354.3 917.6 L1355.3 918.4 L1356.2 919.3 L1357.2 920.2 L1358.2 921.1 L1359.1 922.0 L1360.1 923.0 L1361.0 924.0 L1362.0 925.0 L1363.0 926.1 L1363.9 927.2 L1364.9 928.3 L1365.9 929.5 L1366.8 930.8 L1367.8 932.1 L1368.8 933.5 L1369.7 935.0 L1370.7 936.5 L1371.6 938.1 L1372.6 939.9 L1373.6 941.7 L1374.5 943.7 L1375.5 945.8 L1376.5 948.0 L1377.4 950.5 L1378.4 953.2 L1379.3 956.2 L1380.3 959.6 L1381.3 963.4 L1382.2 967.7 L1383.2 972.9 L1384.2 979.3 L1385.1 987.5 L1386.1 999.0 L1387.0 1018.7 L1388.0 1086.1 L1389.0 1017.1 L1389.9 997.6 L1390.9 986.2 L1391.8 978.1 L1392.8 971.8 L1393.8 966.7 L1394.7 962.3 L1395.7 958.6 L1396.7 955.2 L1397.6 952.3 L1398.6 949.6 L1399.5 947.1 L1400.5 944.9 L1401.5 942.8 L1402.4 940.9 L1403.4 939.0 L1404.4 937.3 L1405.3 935.7 L1406.3 934.2 L1407.2 932.8 L1408.2 931.4 L1409.2 930.1 L1410.1 928.8 L1411.1 927.6 L1412.1 926.5 L1413.0 925.4 L1414.0 924.3 L1415.0 923.3 L1415.9 922.3 L1416.9 921.3 L1417.8 920.4 L1418.8 919.5 L1419.8 918.7 L1420.7 917.8 L1421.7 917.0 L1422.7 916.2 L1423.6 915.4 L1424.6 914.7 L1425.5 914.0 L1426.5 913.2 L1427.5 912.5 L1428.4 911.9 L1429.4 911.2 L1430.3 910.6 L1431.3 909.9 L1432.3 909.3 L1433.2 908.7 L1434.2 908.1 L1435.2 907.5 L1436.1 907.0 L1437.1 906.4 L1438.0 905.9 L1439.0 905.3 L1440.0 904.8 L1440.9 904.3 L1441.9 903.8 L1442.9 903.3 L1443.8 902.8 L1444.8 902.3 L1445.8 901.8 L1446.7 901.4 L1447.7 900.9 L1448.6 900.4 L1449.6 900.0 L1450.6 899.6 L1451.5 899.1 L1452.5 898.7 L1453.5 898.3 L1454.4 897.9 L1455.4 897.5 L1456.3 897.1 L1457.3 896.7 L1458.3 896.3 L1459.2 895.9 L1460.2 895.5 L1461.2 895.2 L1462.1 894.8 L1463.1 894.4 L1464.0 894.1 L1465.0 893.7 L1466.0 893.4 L1466.9 893.0 L1467.9 892.7 L1468.9 892.3 L1469.8 892.0 L1470.8 891.7 L1471.7 891.4 L1472.7 891.0 L1473.7 890.7 L1474.6 890.4 L1475.6 890.1 L1476.5 889.8 L1477.5 889.5 L1478.5 889.2 L1479.4 888.9 L1480.4 888.6 L1481.4 888.3 L1482.3 888.0 L1483.3 887.7 L1484.2 887.4 L1485.2 887.2 L1486.2 886.9 L1487.1 886.6 L1488.1 886.3 L1489.1 886.1 L1490.0 885.8 L1491.0 885.5 L1492.0 885.3 L1492.9 885.0 L1493.9 884.8 L1494.8 884.5 L1495.8 884.2 L1496.8 884.0 L1497.7 883.8 L1498.7 883.5 L1499.7 883.3 L1500.6 883.0 L1501.6 882.8 L1502.5 882.5 L1503.5 882.3 L1504.5 882.1 L1505.4 881.8 L1506.4 881.6 L1507.3 881.4 L1508.3 881.2 L1509.3 880.9 L1510.2 880.7 L1511.2 880.5 L1512.2 880.3 L1513.1 880.1 L1514.1 879.8 L1515.0 879.6 L1516.0 879.4 L1517.0 879.2 L1517.9 879.0 L1518.9 878.8 L1519.9 878.6 L1520.8 878.4 L1521.8 878.2 L1522.8 878.0 L1523.7 877.8 L1524.7 877.6 L1525.6 877.4 L1526.6 877.2 L1527.6 877.0 L1528.5 876.8 L1529.5 876.6 L1530.5 876.4 L1531.4 876.2 L1532.4 876.0 L1533.3 875.8 L1534.3 875.7 L1535.3 875.5 L1536.2 875.3 L1537.2 875.1 L1538.1 874.9 L1539.1 874.7 L1540.1 874.6 L1541.0 874.4 L1542.0 874.2 L1543.0 874.0 L1543.9 873.9 L1544.9 873.7 L1545.9 873.5 L1546.8 873.3 L1547.8 873.2 L1548.7 873.0 L1549.7 872.8 L1550.7 872.7 L1551.6 872.5 L1552.6 872.3 L1553.5 872.2 L1554.5 872.0 L1555.5 871.8 L1556.4 871.7 L1557.4 871.5 L1558.4 871.4 L1559.3 871.2 L1560.3 871.0 L1561.2 870.9 L1562.2 870.7 L1563.2 870.6 L1564.1 870.4 L1565.1 870.3 L1566.1 870.1 L1567.0 870.0 L1568.0 869.8 L1569.0 869.7 L1569.9 869.5 L1570.9 869.4 L1571.8 869.2 L1572.8 869.1 L1573.8 868.9 L1574.7 868.8 L1575.7 868.6 L1576.7 868.5 L1577.6 868.3 L1578.6 868.2 L1579.5 868.1 L1580.5 867.9 L1581.5 867.8 L1582.4 867.6 L1583.4 867.5 L1584.3 867.4 L1585.3 867.2 L1586.3 867.1 L1587.2 867.0 L1588.2 866.8 L1589.2 866.7 L1590.1 866.5 L1591.1 866.4 L1592.0 866.3 L1593.0 866.2 L1594.0 866.0 L1594.9 865.9 L1595.9 865.8 L1596.9 865.6 L1597.8 865.5 L1598.8 865.4 L1599.8 865.2 L1600.7 865.1 L1601.7 865.0 L1602.6 864.9 L1603.6 864.7 L1604.6 864.6 L1605.5 864.5 L1606.5 864.4 L1607.5 864.2 L1608.4 864.1 L1609.4 864.0 L1610.3 863.9 L1611.3 863.7 L1612.3 863.6 L1613.2 863.5 L1614.2 863.4 L1615.2 863.3 L1616.1 863.1 L1617.1 863.0 L1618.0 862.9 L1619.0 862.8 L1620.0 862.7 L1620.9 862.6 L1621.9 862.4 L1622.9 862.3 L1623.8 862.2 L1624.8 862.1 L1625.7 862.0 L1626.7 861.9 L1627.7 861.8 L1628.6 861.6 L1629.6 861.5 L1630.5 861.4 L1631.5 861.3 L1632.5 861.2 L1633.4 861.1 L1634.4 861.0 L1635.4 860.9 L1636.3 860.8 L1637.3 860.6 L1638.2 860.5 L1639.2 860.4 L1640.2 860.3 L1641.1 860.2 L1642.1 860.1 L1643.1 860.0 L1644.0 859.9 L1645.0 859.8 L1646.0 859.7 L1646.9 859.6 L1647.9 859.5 L1648.8 859.4 L1649.8 859.3 L1650.8 859.2 L1651.7 859.1 L1652.7 859.0 L1653.7 858.9 L1654.6 858.8 L1655.6 858.7 L1656.5 858.6 L1657.5 858.4 L1658.5 858.3 L1659.4 858.2 L1660.4 858.1 L1661.4 858.1 L1662.3 858.0 L1663.3 857.9 L1664.2 857.8 L1665.2 857.7 L1666.2 857.6 L1667.1 857.5 L1668.1 857.4 L1669.0 857.3 L1670.0 857.2 L1671.0 857.1 L1671.9 857.0 L1672.9 856.9 L1673.9 856.8 L1674.8 856.7 L1675.8 856.6 L1676.8 856.5 L1677.7 856.4 L1678.7 856.3 L1679.6 856.2 L1680.6 856.1 L1681.6 856.0 L1682.5 855.9 L1683.5 855.9 L1684.5 855.8 L1685.4 855.7 L1686.4 855.6 L1687.3 855.5 L1688.3 855.4 L1689.3 855.3 L1690.2 855.2 L1691.2 855.1 L1692.2 855.0 L1693.1 855.0 L1694.1 854.9 L1695.0 854.8 L1696.0 854.7" fill="none" stroke="#ff0000" stroke-width="6.2" stroke-linejoin="round" stroke-linecap="round"/>
<path d="M1080.0 721.5 L1081.0 721.6 L1081.9 721.7 L1082.9 721.8 L1083.8 721.9 L1084.8 722.0 L1085.8 722.1 L1086.7 722.2 L1087.7 722.3 L1088.7 722.4 L1089.6 722.5 L1090.6 722.6 L1091.5 722.7 L1092.5 722.8 L1093.5 722.9 L1094.4 723.0 L1095.4 723.1 L1096.4 723.2 L1097.3 723.3 L1098.3 723.4 L1099.2 723.5 L1100.2 723.6 L1101.2 723.7 L1102.1 723.8 L1103.1 723.9 L1104.1 724.0 L1105.0 724.1 L1106.0 724.2 L1107.0 724.3 L1107.9 724.4 L1108.9 724.5 L1109.8 724.6 L1110.8 724.7 L1111.8 724.8 L1112.7 724.9 L1113.7 725.1 L1114.7 725.2 L1115.6 725.3 L1116.6 725.4 L1117.5 725.5 L1118.5 725.6 L1119.5 725.7 L1120.4 725.8 L1121.4 725.9 L1122.3 726.0 L1123.3 726.1 L1124.3 726.3 L1125.2 726.4 L1126.2 726.5 L1127.2 726.6 L1128.1 726.7 L1129.1 726.8 L1130.0 726.9 L1131.0 727.0 L1132.0 727.2 L1132.9 727.3 L1133.9 727.4 L1134.9 727.5 L1135.8 727.6 L1136.8 727.7 L1137.8 727.9 L1138.7 728.0 L1139.7 728.1 L1140.6 728.2 L1141.6 728.3 L1142.6 728.5 L1143.5 728.6 L1144.5 728.7 L1145.5 728.8 L1146.4 728.9 L1147.4 729.1 L1148.3 729.2 L1149.3 729.3 L1150.3 729.4 L1151.2 729.6 L1152.2 729.7 L1153.1 729.8 L1154.1 729.9 L1155.1 730.1 L1156.0 730.2 L1157.0 730.3 L1158.0 730.4 L1158.9 730.6 L1159.9 730.7 L1160.8 730.8 L1161.8 731.0 L1162.8 731.1 L1163.7 731.2 L1164.7 731.4 L1165.7 731.5 L1166.6 731.6 L1167.6 731.8 L1168.5 731.9 L1169.5 732.0 L1170.5 732.2 L1171.4 732.3 L1172.4 732.4 L1173.4 732.6 L1174.3 732.7 L1175.3 732.8 L1176.2 733.0 L1177.2 733.1 L1178.2 733.3 L1179.1 733.4 L1180.1 733.5 L1181.1 733.7 L1182.0 733.8 L1183.0 734.0 L1184.0 734.1 L1184.9 734.3 L1185.9 734.4 L1186.8 734.6 L1187.8 734.7 L1188.8 734.8 L1189.7 735.0 L1190.7 735.1 L1191.7 735.3 L1192.6 735.4 L1193.6 735.6 L1194.5 735.7 L1195.5 735.9 L1196.5 736.1 L1197.4 736.2 L1198.4 736.4 L1199.3 736.5 L1200.3 736.7 L1201.3 736.8 L1202.2 737.0 L1203.2 737.2 L1204.2 737.3 L1205.1 737.5 L1206.1 737.6 L1207.0 737.8 L1208.0 738.0 L1209.0 738.1 L1209.9 738.3 L1210.9 738.5 L1211.9 738.6 L1212.8 738.8 L1213.8 739.0 L1214.8 739.1 L1215.7 739.3 L1216.7 739.5 L1217.6 739.6 L1218.6 739.8 L1219.6 740.0 L1220.5 740.2 L1221.5 740.3 L1222.5 740.5 L1223.4 740.7 L1224.4 740.9 L1225.3 741.1 L1226.3 741.2 L1227.3 741.4 L1228.2 741.6 L1229.2 741.8 L1230.2 742.0 L1231.1 742.2 L1232.1 742.4 L1233.0 742.5 L1234.0 742.7 L1235.0 742.9 L1235.9 743.1 L1236.9 743.3 L1237.8 743.5 L1238.8 743.7 L1239.8 743.9 L1240.7 744.1 L1241.7 744.3 L1242.7 744.5 L1243.6 744.7 L1244.6 744.9 L1245.5 745.1 L1246.5 745.3 L1247.5 745.5 L1248.4 745.8 L1249.4 746.0 L1250.4 746.2 L1251.3 746.4 L1252.3 746.6 L1253.2 746.8 L1254.2 747.1 L1255.2 747.3 L1256.1 747.5 L1257.1 747.7 L1258.1 747.9 L1259.0 748.2 L1260.0 748.4 L1261.0 748.6 L1261.9 748.9 L1262.9 749.1 L1263.8 749.3 L1264.8 749.6 L1265.8 749.8 L1266.7 750.1 L1267.7 750.3 L1268.7 750.5 L1269.6 750.8 L1270.6 751.0 L1271.5 751.3 L1272.5 751.6 L1273.5 751.8 L1274.4 752.1 L1275.4 752.3 L1276.3 752.6 L1277.3 752.9 L1278.3 753.1 L1279.2 753.4 L1280.2 753.7 L1281.2 753.9 L1282.1 754.2 L1283.1 754.5 L1284.0 754.8 L1285.0 755.1 L1286.0 755.4 L1286.9 755.6 L1287.9 755.9 L1288.9 756.2 L1289.8 756.5 L1290.8 756.8 L1291.8 757.1 L1292.7 757.4 L1293.7 757.8 L1294.6 758.1 L1295.6 758.4 L1296.6 758.7 L1297.5 759.0 L1298.5 759.4 L1299.5 759.7 L1300.4 760.0 L1301.4 760.4 L1302.3 760.7 L1303.3 761.1 L1304.3 761.4 L1305.2 761.8 L1306.2 762.1 L1307.2 762.5 L1308.1 762.8 L1309.1 763.2 L1310.0 763.6 L1311.0 764.0 L1312.0 764.4 L1312.9 764.8 L1313.9 765.1 L1314.8 765.5 L1315.8 766.0 L1316.8 766.4 L1317.7 766.8 L1318.7 767.2 L1319.7 767.6 L1320.6 768.1 L1321.6 768.5 L1322.5 769.0 L1323.5 769.4 L1324.5 769.9 L1325.4 770.3 L1326.4 770.8 L1327.4 771.3 L1328.3 771.8 L1329.3 772.3 L1330.2 772.8 L1331.2 773.3 L1332.2 773.8 L1333.1 774.4 L1334.1 774.9 L1335.1 775.5 L1336.0 776.0 L1337.0 776.6 L1338.0 777.2 L1338.9 777.8 L1339.9 778.4 L1340.8 779.0 L1341.8 779.6 L1342.8 780.3 L1343.7 780.9 L1344.7 781.6 L1345.7 782.3 L1346.6 783.0 L1347.6 783.7 L1348.5 784.5 L1349.5 785.2 L1350.5 786.0 L1351.4 786.8 L1352.4 787.6 L1353.3 788.4 L1354.3 789.3 L1355.3 790.2 L1356.2 791.1 L1357.2 792.1 L1358.2 793.0 L1359.1 794.0 L1360.1 795.1 L1361.0 796.1 L1362.0 797.3 L1363.0 798.4 L1363.9 799.6 L1364.9 800.9 L1365.9 802.2 L1366.8 803.5 L1367.8 805.0 L1368.8 806.5 L1369.7 808.0 L1370.7 809.7 L1371.6 811.4 L1372.6 813.3 L1373.6 815.3 L1374.5 817.4 L1375.5 819.7 L1376.5 822.1 L1377.4 824.8 L1378.4 827.7 L1379.3 830.9 L1380.3 834.5 L1381.3 838.6 L1382.2 843.3 L1383.2 848.9 L1384.2 855.8 L1385.1 864.6 L1386.1 877.0 L1387.0 898.2 L1388.0 956.0 L1389.0 884.1 L1389.9 865.2 L1390.9 854.2 L1391.8 846.4 L1392.8 840.3 L1393.8 835.4 L1394.7 831.2 L1395.7 827.5 L1396.7 824.3 L1397.6 821.5 L1398.6 818.9 L1399.5 816.5 L1400.5 814.3 L1401.5 812.3 L1402.4 810.4 L1403.4 808.7 L1404.4 807.0 L1405.3 805.5 L1406.3 804.0 L1407.2 802.6 L1408.2 801.3 L1409.2 800.0 L1410.1 798.8 L1411.1 797.7 L1412.1 796.6 L1413.0 795.5 L1414.0 794.5 L1415.0 793.5 L1415.9 792.5 L1416.9 791.6 L1417.8 790.7 L1418.8 789.8 L1419.8 789.0 L1420.7 788.2 L1421.7 787.4 L1422.7 786.6 L1423.6 785.8 L1424.6 785.1 L1425.5 784.4 L1426.5 783.7 L1427.5 783.0 L1428.4 782.3 L1429.4 781.7 L1430.3 781.1 L1431.3 780.4 L1432.3 779.8 L1433.2 779.2 L1434.2 778.7 L1435.2 778.1 L1436.1 777.5 L1437.1 777.0 L1438.0 776.5 L1439.0 775.9 L1440.0 775.4 L1440.9 774.9 L1441.9 774.4 L1442.9 773.9 L1443.8 773.4 L1444.8 773.0 L1445.8 772.5 L1446.7 772.0 L1447.7 771.6 L1448.6 771.2 L1449.6 770.7 L1450.6 770.3 L1451.5 769.9 L1452.5 769.5 L1453.5 769.0 L1454.4 768.6 L1455.4 768.2 L1456.3 767.9 L1457.3 767.5 L1458.3 767.1 L1459.2 766.7 L1460.2 766.3 L1461.2 766.0 L1462.1 765.6 L1463.1 765.3 L1464.0 764.9 L1465.0 764.6 L1466.0 764.1 L1466.9 763.7 L1467.9 763.4 L1468.9 763.1 L1469.8 762.8 L1470.8 762.6 L1471.7 762.3 L1472.7 762.0 L1473.7 761.8 L1474.6 761.5 L1475.6 761.3 L1476.5 761.0 L1477.5 760.7 L1478.5 760.5 L1479.4 760.2 L1480.4 760.0 L1481.4 759.8 L1482.3 759.5 L1483.3 759.3 L1484.2 759.0 L1485.2 758.8 L1486.2 758.6 L1487.1 758.4 L1488.1 758.1 L1489.1 757.9 L1490.0 757.7 L1491.0 757.5 L1492.0 757.2 L1492.9 757.0 L1493.9 756.8 L1494.8 756.6 L1495.8 756.4 L1496.8 756.2 L1497.7 756.0 L1498.7 755.8 L1499.7 755.6 L1500.6 755.4 L1501.6 755.2 L1502.5 755.0 L1503.5 754.8 L1504.5 754.6 L1505.4 754.4 L1506.4 754.2 L1507.3 754.0 L1508.3 753.8 L1509.3 753.6 L1510.2 753.5 L1511.2 753.3 L1512.2 753.1 L1513.1 752.9 L1514.1 752.7 L1515.0 752.5 L1516.0 752.4 L1517.0 752.2 L1517.9 752.0 L1518.9 751.9 L1519.9 751.7 L1520.8 751.5 L1521.8 751.3 L1522.8 751.2 L1523.7 751.0 L1524.7 750.8 L1525.6 750.7 L1526.6 750.5 L1527.6 750.4 L1528.5 750.2 L1529.5 750.0 L1530.5 749.9 L1531.4 749.7 L1532.4 749.6 L1533.3 749.4 L1534.3 749.2 L1535.3 749.1 L1536.2 748.9 L1537.2 748.8 L1538.1 748.6 L1539.1 748.5 L1540.1 748.3 L1541.0 748.2 L1542.0 748.0 L1543.0 747.9 L1543.9 747.8 L1544.9 747.6 L1545.9 747.5 L1546.8 747.3 L1547.8 747.2 L1548.7 747.0 L1549.7 746.9 L1550.7 746.8 L1551.6 746.6 L1552.6 746.5 L1553.5 746.4 L1554.5 746.2 L1555.5 746.1 L1556.4 746.0 L1557.4 745.8 L1558.4 745.7 L1559.3 745.6 L1560.3 745.4 L1561.2 745.3 L1562.2 745.2 L1563.2 745.0 L1564.1 744.9 L1565.1 744.8 L1566.1 744.7 L1567.0 744.5 L1568.0 744.4 L1569.0 744.3 L1569.9 744.1 L1570.9 743.9 L1571.8 743.8 L1572.8 743.6 L1573.8 743.4 L1574.7 743.3 L1575.7 743.1 L1576.7 742.9 L1577.6 742.8 L1578.6 742.6 L1579.5 742.5 L1580.5 742.3 L1581.5 742.1 L1582.4 742.0 L1583.4 741.8 L1584.3 741.7 L1585.3 741.5 L1586.3 741.4 L1587.2 741.2 L1588.2 741.1 L1589.2 740.9 L1590.1 740.8 L1591.1 740.6 L1592.0 740.5 L1593.0 740.3 L1594.0 740.2 L1594.9 740.0 L1595.9 739.9 L1596.9 739.7 L1597.8 739.6 L1598.8 739.4 L1599.8 739.3 L1600.7 739.1 L1601.7 739.0 L1602.6 738.9 L1603.6 738.7 L1604.6 738.6 L1605.5 738.4 L1606.5 738.3 L1607.5 738.1 L1608.4 738.0 L1609.4 737.9 L1610.3 737.7 L1611.3 737.6 L1612.3 737.5 L1613.2 737.3 L1614.2 737.2 L1615.2 737.1 L1616.1 736.9 L1617.1 736.8 L1618.0 736.7 L1619.0 736.5 L1620.0 736.4 L1620.9 736.3 L1621.9 736.1 L1622.9 736.0 L1623.8 735.9 L1624.8 735.7 L1625.7 735.6 L1626.7 735.5 L1627.7 735.4 L1628.6 735.2 L1629.6 735.1 L1630.5 735.0 L1631.5 734.8 L1632.5 734.7 L1633.4 734.6 L1634.4 734.5 L1635.4 734.4 L1636.3 734.2 L1637.3 734.1 L1638.2 734.0 L1639.2 733.9 L1640.2 733.7 L1641.1 733.6 L1642.1 733.5 L1643.1 733.4 L1644.0 733.3 L1645.0 733.1 L1646.0 733.0 L1646.9 732.9 L1647.9 732.8 L1648.8 732.7 L1649.8 732.6 L1650.8 732.4 L1651.7 732.3 L1652.7 732.2 L1653.7 732.1 L1654.6 732.0 L1655.6 731.9 L1656.5 731.7 L1657.5 731.6 L1658.5 731.5 L1659.4 731.4 L1660.4 731.3 L1661.4 731.2 L1662.3 731.1 L1663.3 731.0 L1664.2 730.8 L1665.2 730.7 L1666.2 730.6 L1667.1 730.5 L1668.1 730.4 L1669.0 730.3 L1670.0 730.2 L1671.0 730.1 L1671.9 730.0 L1672.9 729.9 L1673.9 729.8 L1674.8 729.7 L1675.8 729.6 L1676.8 729.4 L1677.7 729.3 L1678.7 729.2 L1679.6 729.1 L1680.6 729.0 L1681.6 728.9 L1682.5 728.8 L1683.5 728.7 L1684.5 728.6 L1685.4 728.5 L1686.4 728.4 L1687.3 728.3 L1688.3 728.2 L1689.3 728.1 L1690.2 728.0 L1691.2 727.9 L1692.2 727.8 L1693.1 727.7 L1694.1 727.6 L1695.0 727.5 L1696.0 727.4" fill="none" stroke="#0072b2" stroke-width="6.2" stroke-linejoin="round" stroke-linecap="round"/>
<path d="M1080.0 645.8 L1081.0 645.8 L1081.9 645.8 L1082.9 645.8 L1083.8 645.8 L1084.8 645.8 L1085.8 645.8 L1086.7 645.8 L1087.7 645.8 L1088.7 645.8 L1089.6 645.8 L1090.6 645.8 L1091.5 645.8 L1092.5 645.8 L1093.5 645.8 L1094.4 645.8 L1095.4 645.8 L1096.4 645.8 L1097.3 645.8 L1098.3 645.8 L1099.2 645.8 L1100.2 645.8 L1101.2 645.8 L1102.1 645.8 L1103.1 645.8 L1104.1 645.8 L1105.0 645.8 L1106.0 645.8 L1107.0 645.8 L1107.9 645.8 L1108.9 645.8 L1109.8 645.8 L1110.8 645.8 L1111.8 645.8 L1112.7 645.8 L1113.7 645.8 L1114.7 645.8 L1115.6 645.8 L1116.6 645.8 L1117.5 645.8 L1118.5 645.8 L1119.5 645.8 L1120.4 645.8 L1121.4 645.8 L1122.3 645.8 L1123.3 645.8 L1124.3 645.8 L1125.2 645.8 L1126.2 645.8 L1127.2 645.8 L1128.1 645.8 L1129.1 645.8 L1130.0 645.8 L1131.0 645.8 L1132.0 645.8 L1132.9 645.8 L1133.9 645.8 L1134.9 645.8 L1135.8 645.8 L1136.8 645.8 L1137.8 645.8 L1138.7 645.8 L1139.7 645.8 L1140.6 645.8 L1141.6 645.8 L1142.6 645.8 L1143.5 645.8 L1144.5 645.8 L1145.5 645.8 L1146.4 645.8 L1147.4 645.8 L1148.3 645.9 L1149.3 646.0 L1150.3 646.1 L1151.2 646.2 L1152.2 646.3 L1153.1 646.5 L1154.1 646.6 L1155.1 646.7 L1156.0 646.8 L1157.0 646.9 L1158.0 647.0 L1158.9 647.1 L1159.9 647.3 L1160.8 647.4 L1161.8 647.5 L1162.8 647.6 L1163.7 647.7 L1164.7 647.8 L1165.7 648.0 L1166.6 648.1 L1167.6 648.2 L1168.5 648.3 L1169.5 648.4 L1170.5 648.6 L1171.4 648.7 L1172.4 648.8 L1173.4 648.9 L1174.3 649.1 L1175.3 649.2 L1176.2 649.3 L1177.2 649.4 L1178.2 649.6 L1179.1 649.7 L1180.1 649.8 L1181.1 649.9 L1182.0 650.1 L1183.0 650.2 L1184.0 650.3 L1184.9 650.5 L1185.9 650.6 L1186.8 650.7 L1187.8 650.9 L1188.8 651.0 L1189.7 651.1 L1190.7 651.3 L1191.7 651.4 L1192.6 651.5 L1193.6 651.7 L1194.5 651.8 L1195.5 651.9 L1196.5 652.1 L1197.4 652.2 L1198.4 652.4 L1199.3 652.5 L1200.3 652.6 L1201.3 652.8 L1202.2 652.9 L1203.2 653.1 L1204.2 653.2 L1205.1 653.4 L1206.1 653.5 L1207.0 653.6 L1208.0 653.8 L1209.0 653.9 L1209.9 654.1 L1210.9 654.2 L1211.9 654.4 L1212.8 654.5 L1213.8 654.7 L1214.8 654.8 L1215.7 655.0 L1216.7 655.2 L1217.6 655.3 L1218.6 655.5 L1219.6 655.6 L1220.5 655.8 L1221.5 655.9 L1222.5 656.1 L1223.4 656.3 L1224.4 656.4 L1225.3 656.6 L1226.3 656.8 L1227.3 656.9 L1228.2 657.1 L1229.2 657.3 L1230.2 657.4 L1231.1 657.6 L1232.1 657.8 L1233.0 657.9 L1234.0 658.1 L1235.0 658.3 L1235.9 658.4 L1236.9 658.6 L1237.8 658.8 L1238.8 659.0 L1239.8 659.2 L1240.7 659.3 L1241.7 659.5 L1242.7 659.7 L1243.6 659.9 L1244.6 660.1 L1245.5 660.3 L1246.5 660.4 L1247.5 660.6 L1248.4 660.8 L1249.4 661.0 L1250.4 661.2 L1251.3 661.4 L1252.3 661.6 L1253.2 661.8 L1254.2 662.0 L1255.2 662.2 L1256.1 662.4 L1257.1 662.6 L1258.1 662.8 L1259.0 663.0 L1260.0 663.2 L1261.0 663.4 L1261.9 663.6 L1262.9 663.8 L1263.8 664.0 L1264.8 664.3 L1265.8 664.5 L1266.7 664.7 L1267.7 664.9 L1268.7 665.1 L1269.6 665.4 L1270.6 665.6 L1271.5 665.8 L1272.5 666.0 L1273.5 666.3 L1274.4 666.5 L1275.4 666.7 L1276.3 667.0 L1277.3 667.2 L1278.3 667.5 L1279.2 667.7 L1280.2 667.9 L1281.2 668.2 L1282.1 668.4 L1283.1 668.7 L1284.0 668.9 L1285.0 669.2 L1286.0 669.5 L1286.9 669.7 L1287.9 670.0 L1288.9 670.3 L1289.8 670.5 L1290.8 670.8 L1291.8 671.1 L1292.7 671.4 L1293.7 671.6 L1294.6 671.9 L1295.6 672.2 L1296.6 672.5 L1297.5 672.8 L1298.5 673.1 L1299.5 673.4 L1300.4 673.7 L1301.4 674.0 L1302.3 674.3 L1303.3 674.6 L1304.3 674.9 L1305.2 675.2 L1306.2 675.6 L1307.2 675.9 L1308.1 676.2 L1309.1 676.6 L1310.0 676.9 L1311.0 677.2 L1312.0 677.6 L1312.9 677.9 L1313.9 678.3 L1314.8 678.6 L1315.8 679.0 L1316.8 679.4 L1317.7 679.8 L1318.7 680.1 L1319.7 680.5 L1320.6 680.9 L1321.6 681.3 L1322.5 681.7 L1323.5 682.1 L1324.5 682.5 L1325.4 683.0 L1326.4 683.4 L1327.4 683.8 L1328.3 684.3 L1329.3 684.7 L1330.2 685.2 L1331.2 685.6 L1332.2 686.1 L1333.1 686.6 L1334.1 687.1 L1335.1 687.6 L1336.0 688.1 L1337.0 688.6 L1338.0 689.1 L1338.9 689.7 L1339.9 690.2 L1340.8 690.8 L1341.8 691.3 L1342.8 691.9 L1343.7 692.5 L1344.7 693.1 L1345.7 693.7 L1346.6 694.4 L1347.6 695.0 L1348.5 695.7 L1349.5 696.4 L1350.5 697.1 L1351.4 697.8 L1352.4 698.5 L1353.3 699.3 L1354.3 700.1 L1355.3 700.9 L1356.2 701.7 L1357.2 702.5 L1358.2 703.4 L1359.1 704.3 L1360.1 705.2 L1361.0 706.2 L1362.0 707.2 L1363.0 708.3 L1363.9 709.3 L1364.9 710.5 L1365.9 711.6 L1366.8 712.9 L1367.8 714.2 L1368.8 715.5 L1369.7 716.9 L1370.7 718.4 L1371.6 720.0 L1372.6 721.7 L1373.6 723.4 L1374.5 725.3 L1375.5 727.4 L1376.5 729.6 L1377.4 732.0 L1378.4 734.6 L1379.3 737.5 L1380.3 740.8 L1381.3 744.5 L1382.2 748.7 L1383.2 753.8 L1384.2 759.9 L1385.1 767.9 L1386.1 779.1 L1387.0 798.2 L1388.0 856.8 L1389.0 797.5 L1389.9 778.4 L1390.9 767.2 L1391.8 759.2 L1392.8 753.1 L1393.8 748.0 L1394.7 743.8 L1395.7 740.1 L1396.7 736.8 L1397.6 733.9 L1398.6 731.3 L1399.5 728.9 L1400.5 726.7 L1401.5 724.7 L1402.4 722.7 L1403.4 721.0 L1404.4 719.3 L1405.3 717.7 L1406.3 716.2 L1407.2 714.8 L1408.2 713.5 L1409.2 712.2 L1410.1 710.9 L1411.1 709.8 L1412.1 708.6 L1413.0 707.6 L1414.0 706.5 L1415.0 705.5 L1415.9 704.6 L1416.9 703.6 L1417.8 702.7 L1418.8 701.8 L1419.8 701.0 L1420.7 700.2 L1421.7 699.4 L1422.7 698.6 L1423.6 697.8 L1424.6 697.1 L1425.5 696.4 L1426.5 695.7 L1427.5 695.0 L1428.4 694.3 L1429.4 693.7 L1430.3 693.0 L1431.3 692.4 L1432.3 691.8 L1433.2 691.2 L1434.2 690.6 L1435.2 690.1 L1436.1 689.5 L1437.1 689.0 L1438.0 688.4 L1439.0 687.9 L1440.0 687.4 L1440.9 686.9 L1441.9 686.4 L1442.9 685.9 L1443.8 685.4 L1444.8 684.9 L1445.8 684.5 L1446.7 684.0 L1447.7 683.6 L1448.6 683.1 L1449.6 682.7 L1450.6 682.3 L1451.5 681.9 L1452.5 681.4 L1453.5 681.0 L1454.4 680.6 L1455.4 680.2 L1456.3 679.8 L1457.3 679.4 L1458.3 679.1 L1459.2 678.7 L1460.2 678.3 L1461.2 678.0 L1462.1 677.6 L1463.1 677.2 L1464.0 676.9 L1465.0 676.5 L1466.0 676.2 L1466.9 675.9 L1467.9 675.5 L1468.9 675.2 L1469.8 674.9 L1470.8 674.5 L1471.7 674.2 L1472.7 673.9 L1473.7 673.6 L1474.6 673.3 L1475.6 673.0 L1476.5 672.7 L1477.5 672.4 L1478.5 672.1 L1479.4 671.8 L1480.4 671.5 L1481.4 671.2 L1482.3 670.9 L1483.3 670.7 L1484.2 670.4 L1485.2 670.1 L1486.2 669.8 L1487.1 669.6 L1488.1 669.3 L1489.1 669.0 L1490.0 668.8 L1491.0 668.5 L1492.0 668.3 L1492.9 668.0 L1493.9 667.7 L1494.8 667.5 L1495.8 667.3 L1496.8 667.0 L1497.7 666.8 L1498.7 666.5 L1499.7 666.3 L1500.6 666.0 L1501.6 665.8 L1502.5 665.6 L1503.5 665.3 L1504.5 665.1 L1505.4 664.9 L1506.4 664.7 L1507.3 664.4 L1508.3 664.2 L1509.3 664.0 L1510.2 663.8 L1511.2 663.6 L1512.2 663.4 L1513.1 663.1 L1514.1 662.9 L1515.0 662.7 L1516.0 662.5 L1517.0 662.3 L1517.9 662.1 L1518.9 661.9 L1519.9 661.7 L1520.8 661.5 L1521.8 661.3 L1522.8 661.1 L1523.7 660.9 L1524.7 660.7 L1525.6 660.5 L1526.6 660.3 L1527.6 660.1 L1528.5 659.9 L1529.5 659.7 L1530.5 659.6 L1531.4 659.4 L1532.4 659.2 L1533.3 659.0 L1534.3 658.8 L1535.3 658.6 L1536.2 658.5 L1537.2 658.3 L1538.1 658.1 L1539.1 657.9 L1540.1 657.8 L1541.0 657.6 L1542.0 657.4 L1543.0 657.2 L1543.9 657.1 L1544.9 656.9 L1545.9 656.7 L1546.8 656.6 L1547.8 656.4 L1548.7 656.2 L1549.7 656.1 L1550.7 655.9 L1551.6 655.7 L1552.6 655.6 L1553.5 655.4 L1554.5 655.3 L1555.5 655.1 L1556.4 654.9 L1557.4 654.8 L1558.4 654.6 L1559.3 654.5 L1560.3 654.3 L1561.2 654.2 L1562.2 654.0 L1563.2 653.9 L1564.1 653.7 L1565.1 653.5 L1566.1 653.4 L1567.0 653.3 L1568.0 653.1 L1569.0 653.0 L1569.9 652.8 L1570.9 652.7 L1571.8 652.5 L1572.8 652.4 L1573.8 652.2 L1574.7 652.1 L1575.7 651.9 L1576.7 651.8 L1577.6 651.7 L1578.6 651.5 L1579.5 651.4 L1580.5 651.2 L1581.5 651.1 L1582.4 651.0 L1583.4 650.8 L1584.3 650.7 L1585.3 650.6 L1586.3 650.4 L1587.2 650.3 L1588.2 650.2 L1589.2 650.0 L1590.1 649.9 L1591.1 649.8 L1592.0 649.6 L1593.0 649.5 L1594.0 649.4 L1594.9 649.3 L1595.9 649.1 L1596.9 649.0 L1597.8 648.9 L1598.8 648.7 L1599.8 648.6 L1600.7 648.5 L1601.7 648.4 L1602.6 648.2 L1603.6 648.1 L1604.6 648.0 L1605.5 647.9 L1606.5 647.8 L1607.5 647.6 L1608.4 647.5 L1609.4 647.4 L1610.3 647.3 L1611.3 647.2 L1612.3 647.0 L1613.2 646.9 L1614.2 646.8 L1615.2 646.7 L1616.1 646.6 L1617.1 646.4 L1618.0 646.3 L1619.0 646.2 L1620.0 646.1 L1620.9 646.0 L1621.9 645.9 L1622.9 645.8 L1623.8 645.8 L1624.8 645.8 L1625.7 645.8 L1626.7 645.8 L1627.7 645.8 L1628.6 645.8 L1629.6 645.8 L1630.5 645.8 L1631.5 645.8 L1632.5 645.8 L1633.4 645.8 L1634.4 645.8 L1635.4 645.8 L1636.3 645.8 L1637.3 645.8 L1638.2 645.8 L1639.2 645.8 L1640.2 645.8 L1641.1 645.8 L1642.1 645.8 L1643.1 645.8 L1644.0 645.8 L1645.0 645.8 L1646.0 645.8 L1646.9 645.8 L1647.9 645.8 L1648.8 645.8 L1649.8 645.8 L1650.8 645.8 L1651.7 645.8 L1652.7 645.8 L1653.7 645.8 L1654.6 645.8 L1655.6 645.8 L1656.5 645.8 L1657.5 645.8 L1658.5 645.8 L1659.4 645.8 L1660.4 645.8 L1661.4 645.8 L1662.3 645.8 L1663.3 645.8 L1664.2 645.8 L1665.2 645.8 L1666.2 645.8 L1667.1 645.8 L1668.1 645.8 L1669.0 645.8 L1670.0 645.8 L1671.0 645.8 L1671.9 645.8 L1672.9 645.8 L1673.9 645.8 L1674.8 645.8 L1675.8 645.8 L1676.8 645.8 L1677.7 645.8 L1678.7 645.8 L1679.6 645.8 L1680.6 645.8 L1681.6 645.8 L1682.5 645.8 L1683.5 645.8 L1684.5 645.8 L1685.4 645.8 L1686.4 645.8 L1687.3 645.8 L1688.3 645.8 L1689.3 645.8 L1690.2 645.8 L1691.2 645.8 L1692.2 645.8 L1693.1 645.8 L1694.1 645.8 L1695.0 645.8 L1696.0 645.8" fill="none" stroke="#ffc000" stroke-width="6.2" stroke-linejoin="round" stroke-linecap="round"/>
<path d="M1060.0 627.0H1715.5V1153.6" fill="none" stroke="#0a0a0a" stroke-width="3.2"/>
<path d="M1060.0 625.4V1153.6H1717.1" fill="none" stroke="#000" stroke-width="4"/>
<path d="M1099.2 1153.6V1165.1 M1195.5 1153.6V1165.1 M1291.8 1153.6V1165.1 M1388.0 1153.6V1165.1 M1484.2 1153.6V1165.1 M1580.5 1153.6V1165.1 M1676.8 1153.6V1165.1 M1147.4 1153.6V1159.6 M1243.6 1153.6V1159.6 M1339.9 1153.6V1159.6 M1436.1 1153.6V1159.6 M1532.4 1153.6V1159.6 M1628.6 1153.6V1159.6 M1060.0 645.8H1049.0 M1060.0 709.4H1049.0 M1060.0 772.9H1049.0 M1060.0 836.5H1049.0 M1060.0 900.0H1049.0 M1060.0 963.6H1049.0 M1060.0 1027.2H1049.0 M1060.0 1090.7H1049.0 M1060.0 1154.3H1049.0 " stroke="#000" stroke-width="3.2" fill="none"/>
<path d="M1060.0 690.2H1054.4 M1060.0 679.0H1054.4 M1060.0 671.1H1054.4 M1060.0 664.9H1054.4 M1060.0 659.9H1054.4 M1060.0 655.6H1054.4 M1060.0 652.0H1054.4 M1060.0 648.7H1054.4 M1060.0 753.8H1054.4 M1060.0 742.6H1054.4 M1060.0 734.7H1054.4 M1060.0 728.5H1054.4 M1060.0 723.5H1054.4 M1060.0 719.2H1054.4 M1060.0 715.5H1054.4 M1060.0 712.3H1054.4 M1060.0 817.3H1054.4 M1060.0 806.2H1054.4 M1060.0 798.2H1054.4 M1060.0 792.1H1054.4 M1060.0 787.0H1054.4 M1060.0 782.8H1054.4 M1060.0 779.1H1054.4 M1060.0 775.8H1054.4 M1060.0 880.9H1054.4 M1060.0 869.7H1054.4 M1060.0 861.8H1054.4 M1060.0 855.6H1054.4 M1060.0 850.6H1054.4 M1060.0 846.3H1054.4 M1060.0 842.6H1054.4 M1060.0 839.4H1054.4 M1060.0 944.5H1054.4 M1060.0 933.3H1054.4 M1060.0 925.3H1054.4 M1060.0 919.2H1054.4 M1060.0 914.1H1054.4 M1060.0 909.9H1054.4 M1060.0 906.2H1054.4 M1060.0 902.9H1054.4 M1060.0 1008.0H1054.4 M1060.0 996.8H1054.4 M1060.0 988.9H1054.4 M1060.0 982.7H1054.4 M1060.0 977.7H1054.4 M1060.0 973.4H1054.4 M1060.0 969.8H1054.4 M1060.0 966.5H1054.4 M1060.0 1071.6H1054.4 M1060.0 1060.4H1054.4 M1060.0 1052.5H1054.4 M1060.0 1046.3H1054.4 M1060.0 1041.3H1054.4 M1060.0 1037.0H1054.4 M1060.0 1033.3H1054.4 M1060.0 1030.1H1054.4 M1060.0 1135.1H1054.4 M1060.0 1124.0H1054.4 M1060.0 1116.0H1054.4 M1060.0 1109.9H1054.4 M1060.0 1104.8H1054.4 M1060.0 1100.6H1054.4 M1060.0 1096.9H1054.4 M1060.0 1093.6H1054.4 " stroke="#000" stroke-width="2.3" fill="none"/>
<text transform="translate(1099.2,1200.8) scale(1.0,1.065)" text-anchor="middle" font-family='"Liberation Serif", "DejaVu Serif", serif' font-size="36.0" fill="#1a1a1a">-1.5</text>
<text transform="translate(1195.5,1200.8) scale(1.0,1.065)" text-anchor="middle" font-family='"Liberation Serif", "DejaVu Serif", serif' font-size="36.0" fill="#1a1a1a">-1.0</text>
<text transform="translate(1291.8,1200.8) scale(1.0,1.065)" text-anchor="middle" font-family='"Liberation Serif", "DejaVu Serif", serif' font-size="36.0" fill="#1a1a1a">-0.5</text>
<text transform="translate(1388.0,1200.8) scale(1.0,1.065)" text-anchor="middle" font-family='"Liberation Serif", "DejaVu Serif", serif' font-size="36.0" fill="#1a1a1a">0.0</text>
<text transform="translate(1484.2,1200.8) scale(1.0,1.065)" text-anchor="middle" font-family='"Liberation Serif", "DejaVu Serif", serif' font-size="36.0" fill="#1a1a1a">0.5</text>
<text transform="translate(1580.5,1200.8) scale(1.0,1.065)" text-anchor="middle" font-family='"Liberation Serif", "DejaVu Serif", serif' font-size="36.0" fill="#1a1a1a">1.0</text>
<text transform="translate(1676.8,1200.8) scale(1.0,1.065)" text-anchor="middle" font-family='"Liberation Serif", "DejaVu Serif", serif' font-size="36.0" fill="#1a1a1a">1.5</text>
<text transform="translate(1040.0,657.8) scale(1.0,1.085)" text-anchor="end" font-family='"Liberation Serif", "DejaVu Serif", serif' font-size="33.8" fill="#1a1a1a">0.1</text>
<text transform="translate(1040.0,721.4) scale(1.0,1.085)" text-anchor="end" font-family='"Liberation Serif", "DejaVu Serif", serif' font-size="33.8" fill="#1a1a1a">0.01</text>
<text transform="translate(1040.0,784.9) scale(1.0,1.085)" text-anchor="end" font-family='"Liberation Serif", "DejaVu Serif", serif' font-size="33.8" fill="#1a1a1a">0.001</text>
<text transform="translate(1042.3,848.5) scale(1.0,1.085)" text-anchor="end" font-family='"Liberation Serif", "DejaVu Serif", serif' font-size="33.8" fill="#1a1a1a">1E-4</text>
<text transform="translate(1042.3,912.0) scale(1.0,1.085)" text-anchor="end" font-family='"Liberation Serif", "DejaVu Serif", serif' font-size="33.8" fill="#1a1a1a">1E-5</text>
<text transform="translate(1042.3,975.6) scale(1.0,1.085)" text-anchor="end" font-family='"Liberation Serif", "DejaVu Serif", serif' font-size="33.8" fill="#1a1a1a">1E-6</text>
<text transform="translate(1042.3,1039.2) scale(1.0,1.085)" text-anchor="end" font-family='"Liberation Serif", "DejaVu Serif", serif' font-size="33.8" fill="#1a1a1a">1E-7</text>
<text transform="translate(1042.3,1102.7) scale(1.0,1.085)" text-anchor="end" font-family='"Liberation Serif", "DejaVu Serif", serif' font-size="33.8" fill="#1a1a1a">1E-8</text>
<text transform="translate(1042.3,1166.3) scale(1.0,1.085)" text-anchor="end" font-family='"Liberation Serif", "DejaVu Serif", serif' font-size="33.8" fill="#1a1a1a">1E-9</text>
<text transform="translate(1400.3,1243.6) scale(1.0,1.05)" text-anchor="middle" font-family='"Liberation Serif", "DejaVu Serif", serif' font-size="45.7" fill="#1a1a1a">Voltage (V)</text>
<text transform="translate(956.6,891.0) rotate(-90)" text-anchor="middle" font-family='"Liberation Serif", "DejaVu Serif", serif' font-size="45.3" fill="#1a1a1a">Log J (A)</text>
<text x="877" y="682" font-family='"Liberation Serif", "DejaVu Serif", serif' font-size="62.8" fill="#000">(c)</text>
<path d="M1523.5 1013.8H1599.5" stroke="#ff0000" stroke-width="6.2" stroke-linecap="round" fill="none"/>
<text transform="translate(1608.3,1026.5) scale(1.0,1.085)" text-anchor="start" font-family='"Liberation Serif", "DejaVu Serif", serif' font-size="34.7" fill="#1a1a1a">350°C</text>
<path d="M1523.5 1057.1H1599.5" stroke="#0072b2" stroke-width="6.2" stroke-linecap="round" fill="none"/>
<text transform="translate(1608.3,1069.8) scale(1.0,1.085)" text-anchor="start" font-family='"Liberation Serif", "DejaVu Serif", serif' font-size="34.7" fill="#1a1a1a">300°C</text>
<path d="M1523.5 1100.4H1599.5" stroke="#ffc000" stroke-width="6.2" stroke-linecap="round" fill="none"/>
<text transform="translate(1608.3,1113.1) scale(1.0,1.085)" text-anchor="start" font-family='"Liberation Serif", "DejaVu Serif", serif' font-size="34.7" fill="#1a1a1a">250°C</text>
</g>
</svg>
</body>
</html>
